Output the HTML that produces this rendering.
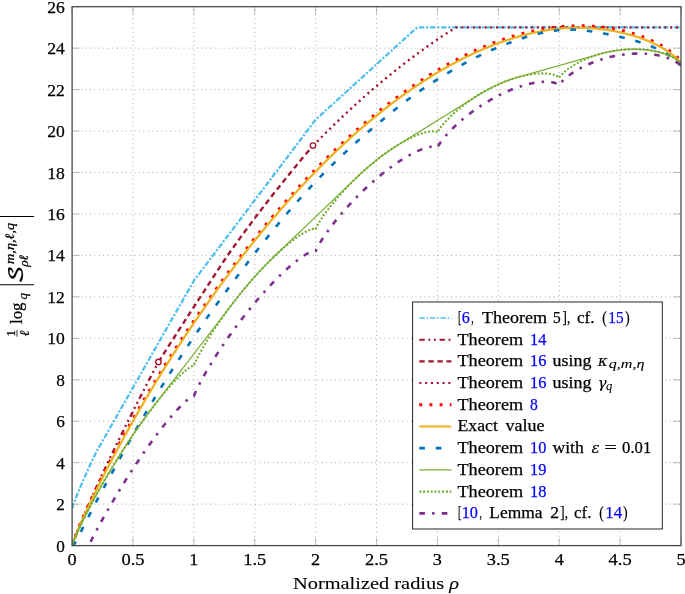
<!DOCTYPE html>
<html><head><meta charset="utf-8"><title>plot</title>
<style>html,body{margin:0;padding:0;background:#fff}svg{display:block}text{font-family:"Liberation Serif",serif;fill:#000;stroke:#000;stroke-width:0.25px}.b{fill:#0000ff;stroke:#0000ff}.i{font-style:italic;font-family:"Liberation Serif","DejaVu Serif",serif}</style></head><body>
<svg width="685" height="594" viewBox="0 0 685 594">
<rect width="685" height="594" fill="#fff"/>
<path d="M132.99 545.60 V6.70 M193.88 545.60 V6.70 M254.77 545.60 V6.70 M315.66 545.60 V6.70 M376.55 545.60 V6.70 M437.44 545.60 V6.70 M498.33 545.60 V6.70 M559.22 545.60 V6.70 M620.11 545.60 V6.70 M72.10 504.15 H681.00 M72.10 462.69 H681.00 M72.10 421.24 H681.00 M72.10 379.78 H681.00 M72.10 338.33 H681.00 M72.10 296.88 H681.00 M72.10 255.42 H681.00 M72.10 213.97 H681.00 M72.10 172.52 H681.00 M72.10 131.06 H681.00 M72.10 89.61 H681.00 M72.10 48.15 H681.00" stroke="#7a7a7a" stroke-width="0.8" stroke-dasharray="0.8 3.66" fill="none"/>
<path d="M72.10 545.60 v-7.70 M72.10 6.70 v7.70 M132.99 545.60 v-7.70 M132.99 6.70 v7.70 M193.88 545.60 v-7.70 M193.88 6.70 v7.70 M254.77 545.60 v-7.70 M254.77 6.70 v7.70 M315.66 545.60 v-7.70 M315.66 6.70 v7.70 M376.55 545.60 v-7.70 M376.55 6.70 v7.70 M437.44 545.60 v-7.70 M437.44 6.70 v7.70 M498.33 545.60 v-7.70 M498.33 6.70 v7.70 M559.22 545.60 v-7.70 M559.22 6.70 v7.70 M620.11 545.60 v-7.70 M620.11 6.70 v7.70 M681.00 545.60 v-7.70 M681.00 6.70 v7.70 M72.10 545.60 h7.70 M681.00 545.60 h-7.70 M72.10 504.15 h7.70 M681.00 504.15 h-7.70 M72.10 462.69 h7.70 M681.00 462.69 h-7.70 M72.10 421.24 h7.70 M681.00 421.24 h-7.70 M72.10 379.78 h7.70 M681.00 379.78 h-7.70 M72.10 338.33 h7.70 M681.00 338.33 h-7.70 M72.10 296.88 h7.70 M681.00 296.88 h-7.70 M72.10 255.42 h7.70 M681.00 255.42 h-7.70 M72.10 213.97 h7.70 M681.00 213.97 h-7.70 M72.10 172.52 h7.70 M681.00 172.52 h-7.70 M72.10 131.06 h7.70 M681.00 131.06 h-7.70 M72.10 89.61 h7.70 M681.00 89.61 h-7.70 M72.10 48.15 h7.70 M681.00 48.15 h-7.70 M72.10 6.70 h7.70 M681.00 6.70 h-7.70" stroke="#808080" stroke-width="0.5" fill="none"/>
<clipPath id="c"><rect x="72.10" y="6.70" width="608.90" height="538.90"/></clipPath>
<g clip-path="url(#c)" fill="none" stroke-linejoin="round">
<path d="M72.10 508.46 L72.71 506.58 L73.32 504.71 L73.93 503.04 L74.54 501.38 L75.14 499.79 L75.75 498.20 L76.36 496.67 L76.97 495.13 L77.58 493.63 L78.19 492.14 L78.80 490.67 L79.41 489.20 L80.02 487.76 L80.62 486.32 L81.23 484.90 L81.84 483.48 L82.45 482.08 L83.06 480.68 L83.67 479.30 L84.28 477.92 L84.89 476.55 L85.50 475.19 L86.10 473.83 L86.71 472.48 L87.32 471.14 L87.93 469.80 L88.54 468.48 L89.15 467.15 L89.76 465.83 L90.37 464.52 L90.98 463.22 L91.58 461.91 L92.19 460.62 L92.80 459.32 L93.41 458.04 L94.02 456.75 L94.63 455.48 L95.24 454.20 L95.85 452.93 L96.46 451.67 L97.06 450.60 L97.67 449.53 L98.28 448.46 L98.89 447.39 L99.50 446.32 L100.11 445.26 L100.72 444.19 L101.33 443.12 L101.94 442.05 L102.54 440.98 L103.15 439.91 L103.76 438.84 L104.37 437.78 L104.98 436.71 L105.59 435.64 L106.20 434.57 L106.81 433.50 L107.42 432.43 L108.03 431.37 L108.63 430.30 L109.24 429.23 L109.85 428.16 L110.46 427.09 L111.07 426.02 L111.68 424.95 L112.29 423.89 L112.90 422.82 L113.51 421.75 L114.11 420.68 L114.72 419.61 L115.33 418.54 L115.94 417.48 L116.55 416.41 L117.16 415.34 L117.77 414.27 L118.38 413.20 L118.99 412.13 L119.59 411.06 L120.20 410.00 L120.81 408.93 L121.42 407.86 L122.03 406.79 L122.64 405.72 L123.25 404.65 L123.86 403.59 L124.47 402.52 L125.07 401.45 L125.68 400.38 L126.29 399.31 L126.90 398.24 L127.51 397.17 L128.12 396.11 L128.73 395.04 L129.34 393.97 L129.95 392.90 L130.55 391.83 L131.16 390.76 L131.77 389.69 L132.38 388.63 L132.99 387.56 L133.60 386.49 L134.21 385.42 L134.82 384.35 L135.43 383.28 L136.03 382.22 L136.64 381.15 L137.25 380.08 L137.86 379.01 L138.47 377.94 L139.08 376.87 L139.69 375.80 L140.30 374.74 L140.91 373.67 L141.51 372.60 L142.12 371.53 L142.73 370.46 L143.34 369.39 L143.95 368.33 L144.56 367.26 L145.17 366.19 L145.78 365.12 L146.39 364.05 L146.99 362.98 L147.60 361.91 L148.21 360.85 L148.82 359.78 L149.43 358.71 L150.04 357.64 L150.65 356.57 L151.26 355.50 L151.87 354.44 L152.47 353.37 L153.08 352.30 L153.69 351.23 L154.30 350.16 L154.91 349.09 L155.52 348.02 L156.13 346.96 L156.74 345.89 L157.35 344.82 L157.95 343.75 L158.56 342.68 L159.17 341.61 L159.78 340.54 L160.39 339.48 L161.00 338.41 L161.61 337.34 L162.22 336.27 L162.83 335.20 L163.44 334.13 L164.04 333.07 L164.65 332.00 L165.26 330.93 L165.87 329.86 L166.48 328.79 L167.09 327.72 L167.70 326.65 L168.31 325.59 L168.92 324.52 L169.52 323.45 L170.13 322.38 L170.74 321.31 L171.35 320.24 L171.96 319.18 L172.57 318.11 L173.18 317.04 L173.79 315.97 L174.40 314.90 L175.00 313.83 L175.61 312.76 L176.22 311.70 L176.83 310.63 L177.44 309.56 L178.05 308.49 L178.66 307.42 L179.27 306.35 L179.88 305.28 L180.48 304.22 L181.09 303.15 L181.70 302.08 L182.31 301.01 L182.92 299.94 L183.53 298.87 L184.14 297.81 L184.75 296.74 L185.36 295.67 L185.96 294.60 L186.57 293.53 L187.18 292.46 L187.79 291.39 L188.40 290.33 L189.01 289.26 L189.62 288.19 L190.23 287.12 L190.84 286.05 L191.44 284.98 L192.05 283.92 L192.66 282.85 L193.27 281.78 L193.88 280.71 L194.49 279.90 L195.10 279.10 L195.71 278.29 L196.32 277.49 L196.92 276.68 L197.53 275.88 L198.14 275.07 L198.75 274.27 L199.36 273.46 L199.97 272.66 L200.58 271.85 L201.19 271.05 L201.80 270.24 L202.40 269.44 L203.01 268.63 L203.62 267.83 L204.23 267.02 L204.84 266.22 L205.45 265.41 L206.06 264.61 L206.67 263.80 L207.28 262.99 L207.88 262.19 L208.49 261.38 L209.10 260.58 L209.71 259.77 L210.32 258.97 L210.93 258.16 L211.54 257.36 L212.15 256.55 L212.76 255.75 L213.36 254.94 L213.97 254.14 L214.58 253.33 L215.19 252.53 L215.80 251.72 L216.41 250.92 L217.02 250.11 L217.63 249.31 L218.24 248.50 L218.84 247.70 L219.45 246.89 L220.06 246.08 L220.67 245.28 L221.28 244.47 L221.89 243.67 L222.50 242.86 L223.11 242.06 L223.72 241.25 L224.32 240.45 L224.93 239.64 L225.54 238.84 L226.15 238.03 L226.76 237.23 L227.37 236.42 L227.98 235.62 L228.59 234.81 L229.20 234.01 L229.81 233.20 L230.41 232.40 L231.02 231.59 L231.63 230.78 L232.24 229.98 L232.85 229.17 L233.46 228.37 L234.07 227.56 L234.68 226.76 L235.29 225.95 L235.89 225.15 L236.50 224.34 L237.11 223.54 L237.72 222.73 L238.33 221.93 L238.94 221.12 L239.55 220.32 L240.16 219.51 L240.77 218.71 L241.37 217.90 L241.98 217.10 L242.59 216.29 L243.20 215.49 L243.81 214.68 L244.42 213.87 L245.03 213.07 L245.64 212.26 L246.25 211.46 L246.85 210.65 L247.46 209.85 L248.07 209.04 L248.68 208.24 L249.29 207.43 L249.90 206.63 L250.51 205.82 L251.12 205.02 L251.73 204.21 L252.33 203.41 L252.94 202.60 L253.55 201.80 L254.16 200.99 L254.77 200.19 L255.38 199.38 L255.99 198.58 L256.60 197.77 L257.21 196.96 L257.81 196.16 L258.42 195.35 L259.03 194.55 L259.64 193.74 L260.25 192.94 L260.86 192.13 L261.47 191.33 L262.08 190.52 L262.69 189.72 L263.29 188.91 L263.90 188.11 L264.51 187.30 L265.12 186.50 L265.73 185.69 L266.34 184.89 L266.95 184.08 L267.56 183.28 L268.17 182.47 L268.77 181.67 L269.38 180.86 L269.99 180.05 L270.60 179.25 L271.21 178.44 L271.82 177.64 L272.43 176.83 L273.04 176.03 L273.65 175.22 L274.25 174.42 L274.86 173.61 L275.47 172.81 L276.08 172.00 L276.69 171.20 L277.30 170.39 L277.91 169.59 L278.52 168.78 L279.13 167.98 L279.73 167.17 L280.34 166.37 L280.95 165.56 L281.56 164.76 L282.17 163.95 L282.78 163.14 L283.39 162.34 L284.00 161.53 L284.61 160.73 L285.22 159.92 L285.82 159.12 L286.43 158.31 L287.04 157.51 L287.65 156.70 L288.26 155.90 L288.87 155.09 L289.48 154.29 L290.09 153.48 L290.70 152.68 L291.30 151.87 L291.91 151.07 L292.52 150.26 L293.13 149.46 L293.74 148.65 L294.35 147.85 L294.96 147.04 L295.57 146.23 L296.18 145.43 L296.78 144.62 L297.39 143.82 L298.00 143.01 L298.61 142.21 L299.22 141.40 L299.83 140.60 L300.44 139.79 L301.05 138.99 L301.66 138.18 L302.26 137.38 L302.87 136.57 L303.48 135.77 L304.09 134.96 L304.70 134.16 L305.31 133.35 L305.92 132.55 L306.53 131.74 L307.14 130.94 L307.74 130.13 L308.35 129.32 L308.96 128.52 L309.57 127.71 L310.18 126.91 L310.79 126.10 L311.40 125.30 L312.01 124.49 L312.62 123.69 L313.22 122.88 L313.83 122.08 L314.44 121.27 L315.05 120.47 L315.66 119.66 L316.27 119.11 L316.88 118.55 L317.49 118.00 L318.10 117.45 L318.70 116.89 L319.31 116.34 L319.92 115.79 L320.53 115.23 L321.14 114.68 L321.75 114.13 L322.36 113.57 L322.97 113.02 L323.58 112.46 L324.18 111.91 L324.79 111.36 L325.40 110.80 L326.01 110.25 L326.62 109.70 L327.23 109.14 L327.84 108.59 L328.45 108.04 L329.06 107.48 L329.66 106.93 L330.27 106.37 L330.88 105.82 L331.49 105.27 L332.10 104.71 L332.71 104.16 L333.32 103.61 L333.93 103.05 L334.54 102.50 L335.14 101.95 L335.75 101.39 L336.36 100.84 L336.97 100.28 L337.58 99.73 L338.19 99.18 L338.80 98.62 L339.41 98.07 L340.02 97.52 L340.62 96.96 L341.23 96.41 L341.84 95.86 L342.45 95.30 L343.06 94.75 L343.67 94.19 L344.28 93.64 L344.89 93.09 L345.50 92.53 L346.11 91.98 L346.71 91.43 L347.32 90.87 L347.93 90.32 L348.54 89.77 L349.15 89.21 L349.76 88.66 L350.37 88.10 L350.98 87.55 L351.59 87.00 L352.19 86.44 L352.80 85.89 L353.41 85.34 L354.02 84.78 L354.63 84.23 L355.24 83.68 L355.85 83.12 L356.46 82.57 L357.07 82.01 L357.67 81.46 L358.28 80.91 L358.89 80.35 L359.50 79.80 L360.11 79.25 L360.72 78.69 L361.33 78.14 L361.94 77.59 L362.55 77.03 L363.15 76.48 L363.76 75.92 L364.37 75.37 L364.98 74.82 L365.59 74.26 L366.20 73.71 L366.81 73.16 L367.42 72.60 L368.03 72.05 L368.63 71.50 L369.24 70.94 L369.85 70.39 L370.46 69.84 L371.07 69.28 L371.68 68.73 L372.29 68.17 L372.90 67.62 L373.51 67.07 L374.11 66.51 L374.72 65.96 L375.33 65.41 L375.94 64.85 L376.55 64.30 L377.16 63.75 L377.77 63.19 L378.38 62.64 L378.99 62.08 L379.59 61.53 L380.20 60.98 L380.81 60.42 L381.42 59.87 L382.03 59.32 L382.64 58.76 L383.25 58.21 L383.86 57.66 L384.47 57.10 L385.07 56.55 L385.68 55.99 L386.29 55.44 L386.90 54.89 L387.51 54.33 L388.12 53.78 L388.73 53.23 L389.34 52.67 L389.95 52.12 L390.55 51.57 L391.16 51.01 L391.77 50.46 L392.38 49.90 L392.99 49.35 L393.60 48.80 L394.21 48.24 L394.82 47.69 L395.43 47.14 L396.03 46.58 L396.64 46.03 L397.25 45.48 L397.86 44.92 L398.47 44.37 L399.08 43.81 L399.69 43.26 L400.30 42.71 L400.91 42.15 L401.51 41.60 L402.12 41.05 L402.73 40.49 L403.34 39.94 L403.95 39.39 L404.56 38.83 L405.17 38.28 L405.78 37.72 L406.39 37.17 L407.00 36.62 L407.60 36.06 L408.21 35.51 L408.82 34.96 L409.43 34.40 L410.04 33.85 L410.65 33.30 L411.26 32.74 L411.87 32.19 L412.48 31.63 L413.08 31.08 L413.69 30.53 L414.30 29.97 L414.91 29.42 L415.52 28.87 L416.13 28.31 L416.74 27.76 L417.35 27.43 L417.96 27.43 L418.56 27.43 L419.17 27.43 L419.78 27.43 L420.39 27.43 L421.00 27.43 L421.61 27.43 L422.22 27.43 L422.83 27.43 L423.44 27.43 L424.04 27.43 L424.65 27.43 L425.26 27.43 L425.87 27.43 L426.48 27.43 L427.09 27.43 L427.70 27.43 L428.31 27.43 L428.92 27.43 L429.52 27.43 L430.13 27.43 L430.74 27.43 L431.35 27.43 L431.96 27.43 L432.57 27.43 L433.18 27.43 L433.79 27.43 L434.40 27.43 L435.00 27.43 L435.61 27.43 L436.22 27.43 L436.83 27.43 L437.44 27.43 L438.05 27.43 L438.66 27.43 L439.27 27.43 L439.88 27.43 L440.48 27.43 L441.09 27.43 L441.70 27.43 L442.31 27.43 L442.92 27.43 L443.53 27.43 L444.14 27.43 L444.75 27.43 L445.36 27.43 L445.96 27.43 L446.57 27.43 L447.18 27.43 L447.79 27.43 L448.40 27.43 L449.01 27.43 L449.62 27.43 L450.23 27.43 L450.84 27.43 L451.44 27.43 L452.05 27.43 L452.66 27.43 L453.27 27.43 L453.88 27.43 L454.49 27.43 L455.10 27.43 L455.71 27.43 L456.32 27.43 L456.92 27.43 L457.53 27.43 L458.14 27.43 L458.75 27.43 L459.36 27.43 L459.97 27.43 L460.58 27.43 L461.19 27.43 L461.80 27.43 L462.40 27.43 L463.01 27.43 L463.62 27.43 L464.23 27.43 L464.84 27.43 L465.45 27.43 L466.06 27.43 L466.67 27.43 L467.28 27.43 L467.88 27.43 L468.49 27.43 L469.10 27.43 L469.71 27.43 L470.32 27.43 L470.93 27.43 L471.54 27.43 L472.15 27.43 L472.76 27.43 L473.37 27.43 L473.97 27.43 L474.58 27.43 L475.19 27.43 L475.80 27.43 L476.41 27.43 L477.02 27.43 L477.63 27.43 L478.24 27.43 L478.85 27.43 L479.45 27.43 L480.06 27.43 L480.67 27.43 L481.28 27.43 L481.89 27.43 L482.50 27.43 L483.11 27.43 L483.72 27.43 L484.33 27.43 L484.93 27.43 L485.54 27.43 L486.15 27.43 L486.76 27.43 L487.37 27.43 L487.98 27.43 L488.59 27.43 L489.20 27.43 L489.81 27.43 L490.41 27.43 L491.02 27.43 L491.63 27.43 L492.24 27.43 L492.85 27.43 L493.46 27.43 L494.07 27.43 L494.68 27.43 L495.29 27.43 L495.89 27.43 L496.50 27.43 L497.11 27.43 L497.72 27.43 L498.33 27.43 L498.94 27.43 L499.55 27.43 L500.16 27.43 L500.77 27.43 L501.37 27.43 L501.98 27.43 L502.59 27.43 L503.20 27.43 L503.81 27.43 L504.42 27.43 L505.03 27.43 L505.64 27.43 L506.25 27.43 L506.85 27.43 L507.46 27.43 L508.07 27.43 L508.68 27.43 L509.29 27.43 L509.90 27.43 L510.51 27.43 L511.12 27.43 L511.73 27.43 L512.33 27.43 L512.94 27.43 L513.55 27.43 L514.16 27.43 L514.77 27.43 L515.38 27.43 L515.99 27.43 L516.60 27.43 L517.21 27.43 L517.81 27.43 L518.42 27.43 L519.03 27.43 L519.64 27.43 L520.25 27.43 L520.86 27.43 L521.47 27.43 L522.08 27.43 L522.69 27.43 L523.29 27.43 L523.90 27.43 L524.51 27.43 L525.12 27.43 L525.73 27.43 L526.34 27.43 L526.95 27.43 L527.56 27.43 L528.17 27.43 L528.77 27.43 L529.38 27.43 L529.99 27.43 L530.60 27.43 L531.21 27.43 L531.82 27.43 L532.43 27.43 L533.04 27.43 L533.65 27.43 L534.26 27.43 L534.86 27.43 L535.47 27.43 L536.08 27.43 L536.69 27.43 L537.30 27.43 L537.91 27.43 L538.52 27.43 L539.13 27.43 L539.74 27.43 L540.34 27.43 L540.95 27.43 L541.56 27.43 L542.17 27.43 L542.78 27.43 L543.39 27.43 L544.00 27.43 L544.61 27.43 L545.22 27.43 L545.82 27.43 L546.43 27.43 L547.04 27.43 L547.65 27.43 L548.26 27.43 L548.87 27.43 L549.48 27.43 L550.09 27.43 L550.70 27.43 L551.30 27.43 L551.91 27.43 L552.52 27.43 L553.13 27.43 L553.74 27.43 L554.35 27.43 L554.96 27.43 L555.57 27.43 L556.18 27.43 L556.78 27.43 L557.39 27.43 L558.00 27.43 L558.61 27.43 L559.22 27.43 L559.83 27.43 L560.44 27.43 L561.05 27.43 L561.66 27.43 L562.26 27.43 L562.87 27.43 L563.48 27.43 L564.09 27.43 L564.70 27.43 L565.31 27.43 L565.92 27.43 L566.53 27.43 L567.14 27.43 L567.74 27.43 L568.35 27.43 L568.96 27.43 L569.57 27.43 L570.18 27.43 L570.79 27.43 L571.40 27.43 L572.01 27.43 L572.62 27.43 L573.22 27.43 L573.83 27.43 L574.44 27.43 L575.05 27.43 L575.66 27.43 L576.27 27.43 L576.88 27.43 L577.49 27.43 L578.10 27.43 L578.70 27.43 L579.31 27.43 L579.92 27.43 L580.53 27.43 L581.14 27.43 L581.75 27.43 L582.36 27.43 L582.97 27.43 L583.58 27.43 L584.18 27.43 L584.79 27.43 L585.40 27.43 L586.01 27.43 L586.62 27.43 L587.23 27.43 L587.84 27.43 L588.45 27.43 L589.06 27.43 L589.67 27.43 L590.27 27.43 L590.88 27.43 L591.49 27.43 L592.10 27.43 L592.71 27.43 L593.32 27.43 L593.93 27.43 L594.54 27.43 L595.15 27.43 L595.75 27.43 L596.36 27.43 L596.97 27.43 L597.58 27.43 L598.19 27.43 L598.80 27.43 L599.41 27.43 L600.02 27.43 L600.63 27.43 L601.23 27.43 L601.84 27.43 L602.45 27.43 L603.06 27.43 L603.67 27.43 L604.28 27.43 L604.89 27.43 L605.50 27.43 L606.11 27.43 L606.71 27.43 L607.32 27.43 L607.93 27.43 L608.54 27.43 L609.15 27.43 L609.76 27.43 L610.37 27.43 L610.98 27.43 L611.59 27.43 L612.19 27.43 L612.80 27.43 L613.41 27.43 L614.02 27.43 L614.63 27.43 L615.24 27.43 L615.85 27.43 L616.46 27.43 L617.07 27.43 L617.67 27.43 L618.28 27.43 L618.89 27.43 L619.50 27.43 L620.11 27.43 L620.72 27.43 L621.33 27.43 L621.94 27.43 L622.55 27.43 L623.15 27.43 L623.76 27.43 L624.37 27.43 L624.98 27.43 L625.59 27.43 L626.20 27.43 L626.81 27.43 L627.42 27.43 L628.03 27.43 L628.63 27.43 L629.24 27.43 L629.85 27.43 L630.46 27.43 L631.07 27.43 L631.68 27.43 L632.29 27.43 L632.90 27.43 L633.51 27.43 L634.11 27.43 L634.72 27.43 L635.33 27.43 L635.94 27.43 L636.55 27.43 L637.16 27.43 L637.77 27.43 L638.38 27.43 L638.99 27.43 L639.59 27.43 L640.20 27.43 L640.81 27.43 L641.42 27.43 L642.03 27.43 L642.64 27.43 L643.25 27.43 L643.86 27.43 L644.47 27.43 L645.07 27.43 L645.68 27.43 L646.29 27.43 L646.90 27.43 L647.51 27.43 L648.12 27.43 L648.73 27.43 L649.34 27.43 L649.95 27.43 L650.56 27.43 L651.16 27.43 L651.77 27.43 L652.38 27.43 L652.99 27.43 L653.60 27.43 L654.21 27.43 L654.82 27.43 L655.43 27.43 L656.04 27.43 L656.64 27.43 L657.25 27.43 L657.86 27.43 L658.47 27.43 L659.08 27.43 L659.69 27.43 L660.30 27.43 L660.91 27.43 L661.52 27.43 L662.12 27.43 L662.73 27.43 L663.34 27.43 L663.95 27.43 L664.56 27.43 L665.17 27.43 L665.78 27.43 L666.39 27.43 L667.00 27.43 L667.60 27.43 L668.21 27.43 L668.82 27.43 L669.43 27.43 L670.04 27.43 L670.65 27.43 L671.26 27.43 L671.87 27.43 L672.48 27.43 L673.08 27.43 L673.69 27.43 L674.30 27.43 L674.91 27.43 L675.52 27.43 L676.13 27.43 L676.74 27.43 L677.35 27.43 L677.96 27.43 L678.56 27.43 L679.17 27.43 L679.78 27.43 L680.39 27.43 L681.00 27.43" stroke="#4DBEEE" stroke-width="2.25" stroke-dasharray="5.4 1.8 2.1 1.8"/>
<path d="M72.10 545.60 L72.97 542.85 L73.84 540.37 L74.72 538.00 L75.59 535.71 L76.46 533.47 L77.33 531.25 L78.20 529.07 L79.08 526.94 L79.95 524.79 L80.82 522.68 L81.69 520.62 L82.57 518.55 L83.44 516.47 L84.31 514.41 L85.18 512.42 L86.05 510.42 L86.93 508.42 L87.80 506.41 L88.67 504.41 L89.54 502.41 L90.41 500.48 L91.29 498.55 L92.16 496.62 L93.03 494.68 L93.90 492.74 L94.78 490.81 L95.65 488.86 L96.52 486.92 L97.39 485.00 L98.26 483.11 L99.14 481.21 L100.01 479.33 L100.88 477.45 L101.75 475.58 L102.62 473.71 L103.50 471.84 L104.37 469.98 L105.24 468.13 L106.11 466.28 L106.99 464.44 L107.86 462.60 L108.73 460.77 L109.60 458.94 L110.47 457.11 L111.35 455.29 L112.22 453.48 L113.09 451.66 L113.96 449.85 L114.83 448.05 L115.71 446.25 L116.58 444.45 L117.45 442.66 L118.32 440.87 L119.20 439.09 L120.07 437.31 L120.94 435.53 L121.81 433.75 L122.68 431.98 L123.56 430.22 L124.43 428.45 L125.30 426.69 L126.17 424.93 L127.04 423.18 L127.92 421.43 L128.79 419.68 L129.66 417.94 L130.53 416.19 L131.41 414.46 L132.28 412.72 L133.15 410.99 L134.02 409.26 L134.89 407.53 L135.77 405.81 L136.64 404.09 L137.51 402.37 L138.38 400.66 L139.25 398.95 L140.13 397.24 L141.00 395.53 L141.87 393.83 L142.74 392.13 L143.62 390.43 L144.49 388.73 L145.36 387.04 L146.23 385.35 L147.10 383.66 L147.98 381.98 L148.85 380.30 L149.72 378.62 L150.59 376.94 L151.46 375.26 L152.34 373.59 L153.21 371.92 L154.08 370.26 L154.95 368.59 L155.83 366.93 L156.70 365.27 L157.57 363.61 L158.44 361.96" stroke="#A2142F" stroke-width="2.35" stroke-dasharray="5.4 3.6 2 3.6 2 3.6"/>
<path d="M158.44 362.02 L160.00 359.57 L161.56 357.12 L163.13 354.68 L164.69 352.23 L166.25 349.79 L167.81 347.35 L169.37 344.91 L170.93 342.47 L172.49 340.03 L174.05 337.59 L175.61 335.16 L177.17 332.72 L178.73 330.29 L180.30 327.86 L181.86 325.44 L183.42 323.02 L184.98 320.60 L186.54 318.18 L188.10 315.76 L189.66 313.35 L191.22 310.95 L192.78 308.54 L194.34 306.14 L195.91 303.74 L197.47 301.35 L199.03 298.96 L200.59 296.58 L202.15 294.20 L203.71 291.83 L205.27 289.46 L206.83 287.08 L208.39 284.69 L209.95 282.29 L211.52 279.87 L213.08 277.46 L214.64 275.04 L216.20 272.63 L217.76 270.22 L219.32 267.83 L220.88 265.45 L222.44 263.10 L224.00 260.77 L225.56 258.47 L227.13 256.20 L228.69 253.95 L230.25 251.72 L231.81 249.51 L233.37 247.31 L234.93 245.12 L236.49 242.95 L238.05 240.79 L239.61 238.64 L241.17 236.50 L242.74 234.37 L244.30 232.26 L245.86 230.15 L247.42 228.04 L248.98 225.95 L250.54 223.86 L252.10 221.78 L253.66 219.71 L255.22 217.64 L256.78 215.57 L258.35 213.51 L259.91 211.46 L261.47 209.41 L263.03 207.37 L264.59 205.35 L266.15 203.33 L267.71 201.31 L269.27 199.31 L270.83 197.31 L272.39 195.32 L273.96 193.34 L275.52 191.36 L277.08 189.39 L278.64 187.42 L280.20 185.46 L281.76 183.51 L283.32 181.56 L284.88 179.61 L286.44 177.67 L288.00 175.74 L289.57 173.81 L291.13 171.89 L292.69 169.97 L294.25 168.07 L295.81 166.16 L297.37 164.26 L298.93 162.37 L300.49 160.49 L302.05 158.61 L303.61 156.73 L305.18 154.87 L306.74 153.01 L308.30 151.15 L309.86 149.30 L311.42 147.46 L312.98 145.62" stroke="#A2142F" stroke-width="2.35" stroke-dasharray="5.4 3.7"/>
<path d="M312.98 145.83 L313.90 144.88 L314.83 143.94 L315.75 142.99 L316.67 142.05 L317.59 141.11 L318.51 140.18 L319.44 139.25 L320.36 138.31 L321.28 137.39 L322.20 136.46 L323.13 135.54 L324.05 134.61 L324.97 133.70 L325.89 132.78 L326.82 131.86 L327.74 130.95 L328.66 130.04 L329.58 129.14 L330.51 128.23 L331.43 127.33 L332.35 126.43 L333.27 125.53 L334.19 124.64 L335.12 123.74 L336.04 122.85 L336.96 121.96 L337.88 121.08 L338.81 120.19 L339.73 119.31 L340.65 118.43 L341.57 117.56 L342.50 116.68 L343.42 115.81 L344.34 114.94 L345.26 114.08 L346.19 113.21 L347.11 112.35 L348.03 111.49 L348.95 110.63 L349.87 109.78 L350.80 108.93 L351.72 108.08 L352.64 107.23 L353.56 106.38 L354.49 105.54 L355.41 104.70 L356.33 103.86 L357.25 103.03 L358.18 102.19 L359.10 101.36 L360.02 100.53 L360.94 99.71 L361.87 98.88 L362.79 98.06 L363.71 97.24 L364.63 96.42 L365.56 95.61 L366.48 94.80 L367.40 93.99 L368.32 93.18 L369.24 92.38 L370.17 91.57 L371.09 90.77 L372.01 89.98 L372.93 89.18 L373.86 88.39 L374.78 87.60 L375.70 86.81 L376.62 86.02 L377.55 85.24 L378.47 84.46 L379.39 83.68 L380.31 82.90 L381.24 82.13 L382.16 81.36 L383.08 80.59 L384.00 79.82 L384.92 79.06 L385.85 78.29 L386.77 77.53 L387.69 76.78 L388.61 76.02 L389.54 75.27 L390.46 74.52 L391.38 73.77 L392.30 73.02 L393.23 72.28 L394.15 71.54 L395.07 70.80 L395.99 70.07 L396.92 69.33 L397.84 68.60 L398.76 67.87 L399.68 67.15 L400.60 66.42 L401.53 65.70 L402.45 64.98 L403.37 64.26 L404.29 63.55 L405.22 62.84 L406.14 62.13 L407.06 61.42 L407.98 60.72 L408.91 60.01 L409.83 59.31 L410.75 58.61 L411.67 57.92 L412.60 57.23 L413.52 56.53 L414.44 55.85 L415.36 55.16 L416.28 54.48 L417.21 53.80 L418.13 53.12 L419.05 52.44 L419.97 51.77 L420.90 51.09 L421.82 50.42 L422.74 49.76 L423.66 49.09 L424.59 48.43 L425.51 47.77 L426.43 47.11 L427.35 46.46 L428.28 45.81 L429.20 45.16 L430.12 44.51 L431.04 43.86 L431.96 43.22 L432.89 42.58 L433.81 41.94 L434.73 41.30 L435.65 40.67 L436.58 40.04 L437.50 39.41 L438.42 38.78 L439.34 38.16 L440.27 37.54 L441.19 36.92 L442.11 36.30 L443.03 35.68 L443.96 35.07 L444.88 34.46 L445.80 33.85 L446.72 33.25 L447.64 32.65 L448.57 32.05 L449.49 31.45 L450.41 30.85 L451.33 30.26 L452.26 29.67 L453.18 29.08 L454.10 28.49 L455.02 27.91 L455.95 27.43 L456.87 27.43 L457.79 27.43 L458.71 27.43 L459.64 27.43 L460.56 27.43 L461.48 27.43 L462.40 27.43 L463.32 27.43 L464.25 27.43 L465.17 27.43 L466.09 27.43 L467.01 27.43 L467.94 27.43 L468.86 27.43 L469.78 27.43 L470.70 27.43 L471.63 27.43 L472.55 27.43 L473.47 27.43 L474.39 27.43 L475.32 27.43 L476.24 27.43 L477.16 27.43 L478.08 27.43 L479.00 27.43 L479.93 27.43 L480.85 27.43 L481.77 27.43 L482.69 27.43 L483.62 27.43 L484.54 27.43 L485.46 27.43 L486.38 27.43 L487.31 27.43 L488.23 27.43 L489.15 27.43 L490.07 27.43 L491.00 27.43 L491.92 27.43 L492.84 27.43 L493.76 27.43 L494.68 27.43 L495.61 27.43 L496.53 27.43 L497.45 27.43 L498.37 27.43 L499.30 27.43 L500.22 27.43 L501.14 27.43 L502.06 27.43 L502.99 27.43 L503.91 27.43 L504.83 27.43 L505.75 27.43 L506.68 27.43 L507.60 27.43 L508.52 27.43 L509.44 27.43 L510.36 27.43 L511.29 27.43 L512.21 27.43 L513.13 27.43 L514.05 27.43 L514.98 27.43 L515.90 27.43 L516.82 27.43 L517.74 27.43 L518.67 27.43 L519.59 27.43 L520.51 27.43 L521.43 27.43 L522.36 27.43 L523.28 27.43 L524.20 27.43 L525.12 27.43 L526.04 27.43 L526.97 27.43 L527.89 27.43 L528.81 27.43 L529.73 27.43 L530.66 27.43 L531.58 27.43 L532.50 27.43 L533.42 27.43 L534.35 27.43 L535.27 27.43 L536.19 27.43 L537.11 27.43 L538.04 27.43 L538.96 27.43 L539.88 27.43 L540.80 27.43 L541.72 27.43 L542.65 27.43 L543.57 27.43 L544.49 27.43 L545.41 27.43 L546.34 27.43 L547.26 27.43 L548.18 27.43 L549.10 27.43 L550.03 27.43 L550.95 27.43 L551.87 27.43 L552.79 27.43 L553.72 27.43 L554.64 27.43 L555.56 27.43 L556.48 27.43 L557.40 27.43 L558.33 27.43 L559.25 27.43 L560.17 27.43 L561.09 27.43 L562.02 27.43 L562.94 27.43 L563.86 27.43 L564.78 27.43 L565.71 27.43 L566.63 27.43 L567.55 27.43 L568.47 27.43 L569.40 27.43 L570.32 27.43 L571.24 27.43 L572.16 27.43 L573.08 27.43 L574.01 27.43 L574.93 27.43 L575.85 27.43 L576.77 27.43 L577.70 27.43 L578.62 27.43 L579.54 27.43 L580.46 27.43 L581.39 27.43 L582.31 27.43 L583.23 27.43 L584.15 27.43 L585.08 27.43 L586.00 27.43 L586.92 27.43 L587.84 27.43 L588.76 27.43 L589.69 27.43 L590.61 27.43 L591.53 27.43 L592.45 27.43 L593.38 27.43 L594.30 27.43 L595.22 27.43 L596.14 27.43 L597.07 27.43 L597.99 27.43 L598.91 27.43 L599.83 27.43 L600.76 27.43 L601.68 27.43 L602.60 27.43 L603.52 27.43 L604.44 27.43 L605.37 27.43 L606.29 27.43 L607.21 27.43 L608.13 27.43 L609.06 27.43 L609.98 27.43 L610.90 27.43 L611.82 27.43 L612.75 27.43 L613.67 27.43 L614.59 27.43 L615.51 27.43 L616.44 27.43 L617.36 27.43 L618.28 27.43 L619.20 27.43 L620.12 27.43 L621.05 27.43 L621.97 27.43 L622.89 27.43 L623.81 27.43 L624.74 27.43 L625.66 27.43 L626.58 27.43 L627.50 27.43 L628.43 27.43 L629.35 27.43 L630.27 27.43 L631.19 27.43 L632.12 27.43 L633.04 27.43 L633.96 27.43 L634.88 27.43 L635.80 27.43 L636.73 27.43 L637.65 27.43 L638.57 27.43 L639.49 27.43 L640.42 27.43 L641.34 27.43 L642.26 27.43 L643.18 27.43 L644.11 27.43 L645.03 27.43 L645.95 27.43 L646.87 27.43 L647.80 27.43 L648.72 27.43 L649.64 27.43 L650.56 27.43 L651.48 27.43 L652.41 27.43 L653.33 27.43 L654.25 27.43 L655.17 27.43 L656.10 27.43 L657.02 27.43 L657.94 27.43 L658.86 27.43 L659.79 27.43 L660.71 27.43 L661.63 27.43 L662.55 27.43 L663.48 27.43 L664.40 27.43 L665.32 27.43 L666.24 27.43 L667.16 27.43 L668.09 27.43 L669.01 27.43 L669.93 27.43 L670.85 27.43 L671.78 27.43 L672.70 27.43 L673.62 27.43 L674.54 27.43 L675.47 27.43 L676.39 27.43 L677.31 27.43 L678.23 27.43 L679.16 27.43 L680.08 27.43 L681.00 27.43" stroke="#A2142F" stroke-width="2.30" stroke-dasharray="2.1 3.7"/>
<path d="M72.10 545.60 L72.71 543.58 L73.32 541.76 L73.93 540.02 L74.54 538.33 L75.14 536.68 L75.75 535.05 L76.36 533.46 L76.97 531.89 L77.58 530.32 L78.19 528.79 L78.80 527.27 L79.41 525.76 L80.02 524.25 L80.62 522.76 L81.23 521.31 L81.84 519.87 L82.45 518.42 L83.06 516.98 L83.67 515.54 L84.28 514.11 L84.89 512.74 L85.50 511.37 L86.10 510.00 L86.71 508.63 L87.32 507.27 L87.93 505.92 L88.54 504.56 L89.15 503.22 L89.76 501.90 L90.37 500.63 L90.98 499.35 L91.58 498.08 L92.19 496.80 L92.80 495.53 L93.41 494.25 L94.02 492.98 L94.63 491.70 L95.24 490.43 L95.85 489.15 L96.46 487.88 L97.06 486.62 L97.67 485.38 L98.28 484.14 L98.89 482.90 L99.50 481.67 L100.11 480.45 L100.72 479.23 L101.33 478.01 L101.94 476.79 L102.54 475.58 L103.15 474.37 L103.76 473.17 L104.37 471.97 L104.98 470.77 L105.59 469.58 L106.20 468.39 L106.81 467.20 L107.42 466.02 L108.03 464.84 L108.63 463.66 L109.24 462.48 L109.85 461.31 L110.46 460.14 L111.07 458.98 L111.68 457.82 L112.29 456.66 L112.90 455.50 L113.51 454.35 L114.11 453.20 L114.72 452.05 L115.33 450.90 L115.94 449.76 L116.55 448.62 L117.16 447.48 L117.77 446.35 L118.38 445.22 L118.99 444.09 L119.59 442.96 L120.20 441.84 L120.81 440.72 L121.42 439.60 L122.03 438.48 L122.64 437.37 L123.25 436.25 L123.86 435.14 L124.47 434.04 L125.07 432.93 L125.68 431.83 L126.29 430.73 L126.90 429.63 L127.51 428.54 L128.12 427.45 L128.73 426.36 L129.34 425.27 L129.95 424.18 L130.55 423.10 L131.16 422.02 L131.77 420.94 L132.38 419.86 L132.99 418.79 L133.60 417.71 L134.21 416.64 L134.82 415.57 L135.43 414.51 L136.03 413.44 L136.64 412.38 L137.25 411.32 L137.86 410.26 L138.47 409.21 L139.08 408.15 L139.69 407.10 L140.30 406.05 L140.91 405.00 L141.51 403.96 L142.12 402.91 L142.73 401.87 L143.34 400.83 L143.95 399.79 L144.56 398.76 L145.17 397.72 L145.78 396.69 L146.39 395.66 L146.99 394.63 L147.60 393.61 L148.21 392.58 L148.82 391.56 L149.43 390.54 L150.04 389.52 L150.65 388.50 L151.26 387.49 L151.87 386.48 L152.47 385.46 L153.08 384.45 L153.69 383.45 L154.30 382.44 L154.91 381.44 L155.52 380.44 L156.13 379.43 L156.74 378.44 L157.35 377.44 L157.95 376.44 L158.56 375.45 L159.17 374.46 L159.78 373.47 L160.39 372.48 L161.00 371.50 L161.61 370.51 L162.22 369.53 L162.83 368.55 L163.44 367.57 L164.04 366.59 L164.65 365.61 L165.26 364.64 L165.87 363.67 L166.48 362.70 L167.09 361.73 L167.70 360.76 L168.31 359.80 L168.92 358.83 L169.52 357.87 L170.13 356.91 L170.74 355.95 L171.35 354.99 L171.96 354.04 L172.57 353.08 L173.18 352.13 L173.79 351.18 L174.40 350.23 L175.00 349.28 L175.61 348.34 L176.22 347.39 L176.83 346.45 L177.44 345.51 L178.05 344.57 L178.66 343.63 L179.27 342.70 L179.88 341.76 L180.48 340.83 L181.09 339.90 L181.70 338.97 L182.31 338.04 L182.92 337.11 L183.53 336.19 L184.14 335.27 L184.75 334.34 L185.36 333.42 L185.96 332.51 L186.57 331.59 L187.18 330.67 L187.79 329.76 L188.40 328.84 L189.01 327.94 L189.62 327.03 L190.23 326.12 L190.84 325.21 L191.44 324.31 L192.05 323.40 L192.66 322.50 L193.27 321.60 L193.88 320.70 L194.49 319.81 L195.10 318.91 L195.71 318.02 L196.32 317.12 L196.92 316.23 L197.53 315.34 L198.14 314.46 L198.75 313.57 L199.36 312.68 L199.97 311.80 L200.58 310.92 L201.19 310.04 L201.80 309.16 L202.40 308.28 L203.01 307.40 L203.62 306.53 L204.23 305.66 L204.84 304.79 L205.45 303.91 L206.06 303.05 L206.67 302.18 L207.28 301.31 L207.88 300.45 L208.49 299.59 L209.10 298.72 L209.71 297.86 L210.32 297.00 L210.93 296.15 L211.54 295.29 L212.15 294.44 L212.76 293.59 L213.36 292.73 L213.97 291.88 L214.58 291.04 L215.19 290.19 L215.80 289.34 L216.41 288.50 L217.02 287.66 L217.63 286.81 L218.24 285.98 L218.84 285.14 L219.45 284.30 L220.06 283.47 L220.67 282.63 L221.28 281.80 L221.89 280.97 L222.50 280.14 L223.11 279.31 L223.72 278.48 L224.32 277.66 L224.93 276.83 L225.54 276.01 L226.15 275.19 L226.76 274.37 L227.37 273.55 L227.98 272.73 L228.59 271.92 L229.20 271.10 L229.81 270.29 L230.41 269.48 L231.02 268.67 L231.63 267.86 L232.24 267.05 L232.85 266.24 L233.46 265.44 L234.07 264.64 L234.68 263.83 L235.29 263.03 L235.89 262.23 L236.50 261.44 L237.11 260.64 L237.72 259.85 L238.33 259.05 L238.94 258.26 L239.55 257.47 L240.16 256.68 L240.77 255.89 L241.37 255.10 L241.98 254.32 L242.59 253.53 L243.20 252.75 L243.81 251.97 L244.42 251.19 L245.03 250.41 L245.64 249.64 L246.25 248.86 L246.85 248.09 L247.46 247.31 L248.07 246.54 L248.68 245.77 L249.29 245.00 L249.90 244.23 L250.51 243.47 L251.12 242.70 L251.73 241.94 L252.33 241.18 L252.94 240.42 L253.55 239.66 L254.16 238.90 L254.77 238.14 L255.38 237.39 L255.99 236.63 L256.60 235.88 L257.21 235.13 L257.81 234.38 L258.42 233.63 L259.03 232.88 L259.64 232.13 L260.25 231.39 L260.86 230.65 L261.47 229.90 L262.08 229.17 L262.69 228.43 L263.29 227.69 L263.90 226.95 L264.51 226.22 L265.12 225.48 L265.73 224.75 L266.34 224.02 L266.95 223.29 L267.56 222.56 L268.17 221.83 L268.77 221.11 L269.38 220.38 L269.99 219.66 L270.60 218.94 L271.21 218.21 L271.82 217.50 L272.43 216.78 L273.04 216.06 L273.65 215.35 L274.25 214.63 L274.86 213.92 L275.47 213.21 L276.08 212.50 L276.69 211.79 L277.30 211.08 L277.91 210.37 L278.52 209.67 L279.13 208.97 L279.73 208.26 L280.34 207.56 L280.95 206.86 L281.56 206.17 L282.17 205.47 L282.78 204.77 L283.39 204.08 L284.00 203.39 L284.61 202.69 L285.22 202.00 L285.82 201.31 L286.43 200.63 L287.04 199.94 L287.65 199.26 L288.26 198.57 L288.87 197.89 L289.48 197.21 L290.09 196.53 L290.70 195.85 L291.30 195.17 L291.91 194.50 L292.52 193.82 L293.13 193.15 L293.74 192.48 L294.35 191.80 L294.96 191.14 L295.57 190.47 L296.18 189.80 L296.78 189.14 L297.39 188.47 L298.00 187.81 L298.61 187.15 L299.22 186.49 L299.83 185.83 L300.44 185.17 L301.05 184.51 L301.66 183.86 L302.26 183.20 L302.87 182.55 L303.48 181.90 L304.09 181.25 L304.70 180.60 L305.31 179.95 L305.92 179.31 L306.53 178.66 L307.14 178.02 L307.74 177.38 L308.35 176.74 L308.96 176.10 L309.57 175.46 L310.18 174.82 L310.79 174.19 L311.40 173.55 L312.01 172.92 L312.62 172.29 L313.22 171.66 L313.83 171.03 L314.44 170.40 L315.05 169.78 L315.66 169.15 L316.27 168.53 L316.88 167.90 L317.49 167.28 L318.10 166.66 L318.70 166.04 L319.31 165.43 L319.92 164.81 L320.53 164.20 L321.14 163.58 L321.75 162.97 L322.36 162.36 L322.97 161.75 L323.58 161.14 L324.18 160.53 L324.79 159.93 L325.40 159.32 L326.01 158.72 L326.62 158.12 L327.23 157.52 L327.84 156.92 L328.45 156.32 L329.06 155.72 L329.66 155.13 L330.27 154.53 L330.88 153.94 L331.49 153.35 L332.10 152.76 L332.71 152.17 L333.32 151.58 L333.93 151.00 L334.54 150.41 L335.14 149.83 L335.75 149.24 L336.36 148.66 L336.97 148.08 L337.58 147.50 L338.19 146.93 L338.80 146.35 L339.41 145.78 L340.02 145.20 L340.62 144.63 L341.23 144.06 L341.84 143.49 L342.45 142.92 L343.06 142.35 L343.67 141.79 L344.28 141.23 L344.89 140.66 L345.50 140.10 L346.11 139.54 L346.71 138.98 L347.32 138.42 L347.93 137.87 L348.54 137.31 L349.15 136.76 L349.76 136.20 L350.37 135.65 L350.98 135.10 L351.59 134.55 L352.19 134.01 L352.80 133.46 L353.41 132.91 L354.02 132.37 L354.63 131.83 L355.24 131.29 L355.85 130.75 L356.46 130.21 L357.07 129.67 L357.67 129.14 L358.28 128.60 L358.89 128.07 L359.50 127.54 L360.11 127.00 L360.72 126.47 L361.33 125.95 L361.94 125.42 L362.55 124.89 L363.15 124.37 L363.76 123.85 L364.37 123.32 L364.98 122.80 L365.59 122.29 L366.20 121.77 L366.81 121.25 L367.42 120.74 L368.03 120.22 L368.63 119.71 L369.24 119.20 L369.85 118.69 L370.46 118.18 L371.07 117.67 L371.68 117.17 L372.29 116.66 L372.90 116.16 L373.51 115.66 L374.11 115.15 L374.72 114.65 L375.33 114.16 L375.94 113.66 L376.55 113.16 L377.16 112.67 L377.77 112.18 L378.38 111.68 L378.99 111.19 L379.59 110.70 L380.20 110.22 L380.81 109.73 L381.42 109.24 L382.03 108.76 L382.64 108.28 L383.25 107.80 L383.86 107.32 L384.47 106.84 L385.07 106.36 L385.68 105.88 L386.29 105.41 L386.90 104.94 L387.51 104.46 L388.12 103.99 L388.73 103.52 L389.34 103.05 L389.95 102.59 L390.55 102.12 L391.16 101.66 L391.77 101.19 L392.38 100.73 L392.99 100.27 L393.60 99.81 L394.21 99.36 L394.82 98.90 L395.43 98.44 L396.03 97.99 L396.64 97.54 L397.25 97.09 L397.86 96.64 L398.47 96.19 L399.08 95.74 L399.69 95.29 L400.30 94.85 L400.91 94.41 L401.51 93.96 L402.12 93.52 L402.73 93.08 L403.34 92.65 L403.95 92.21 L404.56 91.77 L405.17 91.34 L405.78 90.91 L406.39 90.48 L407.00 90.05 L407.60 89.62 L408.21 89.19 L408.82 88.76 L409.43 88.34 L410.04 87.92 L410.65 87.49 L411.26 87.07 L411.87 86.65 L412.48 86.23 L413.08 85.82 L413.69 85.40 L414.30 84.99 L414.91 84.58 L415.52 84.17 L416.13 83.75 L416.74 83.35 L417.35 82.94 L417.96 82.53 L418.56 82.13 L419.17 81.72 L419.78 81.32 L420.39 80.92 L421.00 80.52 L421.61 80.12 L422.22 79.73 L422.83 79.33 L423.44 78.94 L424.04 78.54 L424.65 78.15 L425.26 77.76 L425.87 77.37 L426.48 76.99 L427.09 76.60 L427.70 76.22 L428.31 75.83 L428.92 75.45 L429.52 75.07 L430.13 74.69 L430.74 74.31 L431.35 73.94 L431.96 73.56 L432.57 73.19 L433.18 72.81 L433.79 72.44 L434.40 72.08 L435.00 71.71 L435.61 71.34 L436.22 70.97 L436.83 70.61 L437.44 70.25 L438.05 69.89 L438.66 69.52 L439.27 69.17 L439.88 68.81 L440.48 68.45 L441.09 68.10 L441.70 67.74 L442.31 67.39 L442.92 67.04 L443.53 66.69 L444.14 66.34 L444.75 66.00 L445.36 65.65 L445.96 65.31 L446.57 64.97 L447.18 64.63 L447.79 64.29 L448.40 63.95 L449.01 63.61 L449.62 63.27 L450.23 62.94 L450.84 62.61 L451.44 62.28 L452.05 61.95 L452.66 61.62 L453.27 61.29 L453.88 60.96 L454.49 60.64 L455.10 60.32 L455.71 60.00 L456.32 59.68 L456.92 59.36 L457.53 59.04 L458.14 58.72 L458.75 58.41 L459.36 58.10 L459.97 57.78 L460.58 57.47 L461.19 57.16 L461.80 56.86 L462.40 56.55 L463.01 56.24 L463.62 55.94 L464.23 55.64 L464.84 55.34 L465.45 55.04 L466.06 54.74 L466.67 54.45 L467.28 54.15 L467.88 53.86 L468.49 53.56 L469.10 53.27 L469.71 52.98 L470.32 52.70 L470.93 52.41 L471.54 52.12 L472.15 51.84 L472.76 51.56 L473.37 51.28 L473.97 51.00 L474.58 50.72 L475.19 50.44 L475.80 50.17 L476.41 49.90 L477.02 49.62 L477.63 49.35 L478.24 49.08 L478.85 48.81 L479.45 48.55 L480.06 48.28 L480.67 48.02 L481.28 47.76 L481.89 47.50 L482.50 47.24 L483.11 46.98 L483.72 46.72 L484.33 46.47 L484.93 46.22 L485.54 45.96 L486.15 45.71 L486.76 45.46 L487.37 45.22 L487.98 44.97 L488.59 44.73 L489.20 44.48 L489.81 44.24 L490.41 44.00 L491.02 43.76 L491.63 43.52 L492.24 43.29 L492.85 43.05 L493.46 42.82 L494.07 42.59 L494.68 42.36 L495.29 42.13 L495.89 41.90 L496.50 41.68 L497.11 41.46 L497.72 41.23 L498.33 41.01 L498.94 40.79 L499.55 40.57 L500.16 40.36 L500.77 40.14 L501.37 39.93 L501.98 39.72 L502.59 39.51 L503.20 39.30 L503.81 39.09 L504.42 38.88 L505.03 38.68 L505.64 38.48 L506.25 38.27 L506.85 38.08 L507.46 37.88 L508.07 37.68 L508.68 37.48 L509.29 37.29 L509.90 37.10 L510.51 36.91 L511.12 36.72 L511.73 36.53 L512.33 36.34 L512.94 36.16 L513.55 35.98 L514.16 35.79 L514.77 35.61 L515.38 35.44 L515.99 35.26 L516.60 35.08 L517.21 34.91 L517.81 34.74 L518.42 34.57 L519.03 34.40 L519.64 34.23 L520.25 34.06 L520.86 33.90 L521.47 33.74 L522.08 33.57 L522.69 33.42 L523.29 33.26 L523.90 33.10 L524.51 32.95 L525.12 32.79 L525.73 32.64 L526.34 32.49 L526.95 32.34 L527.56 32.19 L528.17 32.05 L528.77 31.90 L529.38 31.76 L529.99 31.62 L530.60 31.48 L531.21 31.35 L531.82 31.21 L532.43 31.07 L533.04 30.94 L533.65 30.81 L534.26 30.68 L534.86 30.55 L535.47 30.43 L536.08 30.30 L536.69 30.18 L537.30 30.06 L537.91 29.94 L538.52 29.82 L539.13 29.70 L539.74 29.59 L540.34 29.48 L540.95 29.36 L541.56 29.25 L542.17 29.15 L542.78 29.04 L543.39 28.94 L544.00 28.83 L544.61 28.73 L545.22 28.63 L545.82 28.53 L546.43 28.44 L547.04 28.34 L547.65 28.25 L548.26 28.16 L548.87 28.07 L549.48 27.98 L550.09 27.89 L550.70 27.81 L551.30 27.72 L551.91 27.64 L552.52 27.56 L553.13 27.48 L553.74 27.41 L554.35 27.33 L554.96 27.26 L555.57 27.19 L556.18 27.12 L556.78 27.05 L557.39 26.98 L558.00 26.92 L558.61 26.86 L559.22 26.80 L559.83 26.74 L560.44 26.68 L561.05 26.62 L561.66 26.57 L562.26 26.52 L562.87 26.47 L563.48 26.42 L564.09 26.37 L564.70 26.33 L565.31 26.28 L565.92 26.24 L566.53 26.20 L567.14 26.16 L567.74 26.12 L568.35 26.09 L568.96 26.06 L569.57 26.03 L570.18 26.00 L570.79 25.97 L571.40 25.94 L572.01 25.92 L572.62 25.90 L573.22 25.88 L573.83 25.86 L574.44 25.84 L575.05 25.82 L575.66 25.81 L576.27 25.80 L576.88 25.79 L577.49 25.78 L578.10 25.78 L578.70 25.77 L579.31 25.77 L579.92 25.77 L580.53 25.77 L581.14 25.77 L581.75 25.78 L582.36 25.79 L582.97 25.79 L583.58 25.81 L584.18 25.82 L584.79 25.83 L585.40 25.85 L586.01 25.87 L586.62 25.89 L587.23 25.91 L587.84 25.93 L588.45 25.96 L589.06 25.98 L589.67 26.01 L590.27 26.04 L590.88 26.08 L591.49 26.11 L592.10 26.15 L592.71 26.19 L593.32 26.23 L593.93 26.27 L594.54 26.32 L595.15 26.36 L595.75 26.41 L596.36 26.46 L596.97 26.52 L597.58 26.57 L598.19 26.63 L598.80 26.68 L599.41 26.74 L600.02 26.81 L600.63 26.87 L601.23 26.94 L601.84 27.01 L602.45 27.08 L603.06 27.15 L603.67 27.22 L604.28 27.30 L604.89 27.38 L605.50 27.46 L606.11 27.54 L606.71 27.63 L607.32 27.71 L607.93 27.80 L608.54 27.89 L609.15 27.99 L609.76 28.08 L610.37 28.18 L610.98 28.28 L611.59 28.38 L612.19 28.48 L612.80 28.59 L613.41 28.70 L614.02 28.81 L614.63 28.92 L615.24 29.04 L615.85 29.15 L616.46 29.27 L617.07 29.39 L617.67 29.52 L618.28 29.64 L618.89 29.77 L619.50 29.90 L620.11 30.03 L620.72 30.17 L621.33 30.30 L621.94 30.44 L622.55 30.58 L623.15 30.73 L623.76 30.88 L624.37 31.02 L624.98 31.18 L625.59 31.33 L626.20 31.49 L626.81 31.64 L627.42 31.81 L628.03 31.97 L628.63 32.13 L629.24 32.30 L629.85 32.47 L630.46 32.65 L631.07 32.82 L631.68 33.00 L632.29 33.18 L632.90 33.37 L633.51 33.55 L634.11 33.74 L634.72 33.93 L635.33 34.13 L635.94 34.33 L636.55 34.53 L637.16 34.73 L637.77 34.94 L638.38 35.14 L638.99 35.35 L639.59 35.57 L640.20 35.79 L640.81 36.01 L641.42 36.23 L642.03 36.46 L642.64 36.68 L643.25 36.92 L643.86 37.15 L644.47 37.39 L645.07 37.63 L645.68 37.88 L646.29 38.13 L646.90 38.38 L647.51 38.63 L648.12 38.89 L648.73 39.15 L649.34 39.42 L649.95 39.69 L650.56 39.96 L651.16 40.24 L651.77 40.52 L652.38 40.80 L652.99 41.09 L653.60 41.38 L654.21 41.67 L654.82 41.97 L655.43 42.28 L656.04 42.59 L656.64 42.90 L657.25 43.22 L657.86 43.54 L658.47 43.86 L659.08 44.19 L659.69 44.53 L660.30 44.87 L660.91 45.21 L661.52 45.56 L662.12 45.92 L662.73 46.28 L663.34 46.65 L663.95 47.02 L664.56 47.40 L665.17 47.78 L665.78 48.18 L666.39 48.57 L667.00 48.98 L667.60 49.39 L668.21 49.81 L668.82 50.24 L669.43 50.67 L670.04 51.12 L670.65 51.57 L671.26 52.03 L671.87 52.50 L672.48 52.98 L673.08 53.48 L673.69 53.98 L674.30 54.50 L674.91 55.04 L675.52 55.59 L676.13 56.15 L676.74 56.74 L677.35 57.34 L677.96 57.98 L678.56 58.64 L679.17 59.34 L679.78 60.10 L680.39 60.93 L681.00 61.97" stroke="#FF0000" stroke-width="2.90" stroke-dasharray="2.9 7.25"/>
<path d="M72.10 545.60 L72.71 543.66 L73.32 541.91 L73.93 540.26 L74.54 538.65 L75.14 537.09 L75.75 535.54 L76.36 534.03 L76.97 532.55 L77.58 531.06 L78.19 529.61 L78.80 528.18 L79.41 526.75 L80.02 525.32 L80.62 523.92 L81.23 522.54 L81.84 521.17 L82.45 519.80 L83.06 518.43 L83.67 517.06 L84.28 515.70 L84.89 514.38 L85.50 513.07 L86.10 511.75 L86.71 510.44 L87.32 509.12 L87.93 507.81 L88.54 506.49 L89.15 505.17 L89.76 503.88 L90.37 502.62 L90.98 501.36 L91.58 500.10 L92.19 498.84 L92.80 497.58 L93.41 496.31 L94.02 495.05 L94.63 493.78 L95.24 492.52 L95.85 491.25 L96.46 489.98 L97.06 488.73 L97.67 487.49 L98.28 486.26 L98.89 485.03 L99.50 483.81 L100.11 482.58 L100.72 481.37 L101.33 480.15 L101.94 478.95 L102.54 477.74 L103.15 476.54 L103.76 475.34 L104.37 474.14 L104.98 472.95 L105.59 471.76 L106.20 470.58 L106.81 469.40 L107.42 468.22 L108.03 467.04 L108.63 465.87 L109.24 464.70 L109.85 463.53 L110.46 462.37 L111.07 461.21 L111.68 460.05 L112.29 458.89 L112.90 457.74 L113.51 456.59 L114.11 455.44 L114.72 454.30 L115.33 453.16 L115.94 452.02 L116.55 450.88 L117.16 449.75 L117.77 448.62 L118.38 447.49 L118.99 446.36 L119.59 445.24 L120.20 444.12 L120.81 443.00 L121.42 441.88 L122.03 440.77 L122.64 439.66 L123.25 438.55 L123.86 437.44 L124.47 436.34 L125.07 435.24 L125.68 434.14 L126.29 433.04 L126.90 431.94 L127.51 430.85 L128.12 429.76 L128.73 428.67 L129.34 427.58 L129.95 426.50 L130.55 425.42 L131.16 424.34 L131.77 423.26 L132.38 422.19 L132.99 421.11 L133.60 420.04 L134.21 418.97 L134.82 417.90 L135.43 416.84 L136.03 415.78 L136.64 414.72 L137.25 413.66 L137.86 412.60 L138.47 411.54 L139.08 410.49 L139.69 409.44 L140.30 408.39 L140.91 407.35 L141.51 406.30 L142.12 405.26 L142.73 404.22 L143.34 403.18 L143.95 402.14 L144.56 401.11 L145.17 400.07 L145.78 399.04 L146.39 398.01 L146.99 396.99 L147.60 395.96 L148.21 394.94 L148.82 393.92 L149.43 392.90 L150.04 391.88 L150.65 390.86 L151.26 389.85 L151.87 388.83 L152.47 387.82 L153.08 386.82 L153.69 385.81 L154.30 384.80 L154.91 383.80 L155.52 382.80 L156.13 381.80 L156.74 380.80 L157.35 379.81 L157.95 378.81 L158.56 377.82 L159.17 376.83 L159.78 375.84 L160.39 374.85 L161.00 373.87 L161.61 372.88 L162.22 371.90 L162.83 370.92 L163.44 369.94 L164.04 368.96 L164.65 367.99 L165.26 367.01 L165.87 366.04 L166.48 365.07 L167.09 364.10 L167.70 363.14 L168.31 362.17 L168.92 361.21 L169.52 360.24 L170.13 359.29 L170.74 358.33 L171.35 357.37 L171.96 356.41 L172.57 355.46 L173.18 354.51 L173.79 353.56 L174.40 352.61 L175.00 351.66 L175.61 350.72 L176.22 349.77 L176.83 348.83 L177.44 347.89 L178.05 346.95 L178.66 346.01 L179.27 345.08 L179.88 344.14 L180.48 343.21 L181.09 342.28 L181.70 341.35 L182.31 340.42 L182.92 339.50 L183.53 338.57 L184.14 337.65 L184.75 336.73 L185.36 335.81 L185.96 334.89 L186.57 333.97 L187.18 333.06 L187.79 332.14 L188.40 331.23 L189.01 330.32 L189.62 329.41 L190.23 328.50 L190.84 327.60 L191.44 326.69 L192.05 325.79 L192.66 324.89 L193.27 323.98 L193.88 323.09 L194.49 322.19 L195.10 321.29 L195.71 320.40 L196.32 319.51 L196.92 318.62 L197.53 317.73 L198.14 316.84 L198.75 315.95 L199.36 315.07 L199.97 314.18 L200.58 313.30 L201.19 312.42 L201.80 311.54 L202.40 310.66 L203.01 309.79 L203.62 308.91 L204.23 308.04 L204.84 307.17 L205.45 306.30 L206.06 305.43 L206.67 304.56 L207.28 303.70 L207.88 302.83 L208.49 301.97 L209.10 301.11 L209.71 300.25 L210.32 299.39 L210.93 298.53 L211.54 297.68 L212.15 296.82 L212.76 295.97 L213.36 295.12 L213.97 294.27 L214.58 293.42 L215.19 292.57 L215.80 291.73 L216.41 290.88 L217.02 290.04 L217.63 289.20 L218.24 288.36 L218.84 287.52 L219.45 286.68 L220.06 285.85 L220.67 285.01 L221.28 284.18 L221.89 283.35 L222.50 282.52 L223.11 281.69 L223.72 280.87 L224.32 280.04 L224.93 279.21 L225.54 278.39 L226.15 277.57 L226.76 276.75 L227.37 275.93 L227.98 275.11 L228.59 274.30 L229.20 273.49 L229.81 272.67 L230.41 271.86 L231.02 271.05 L231.63 270.24 L232.24 269.43 L232.85 268.63 L233.46 267.82 L234.07 267.02 L234.68 266.22 L235.29 265.42 L235.89 264.62 L236.50 263.82 L237.11 263.02 L237.72 262.23 L238.33 261.44 L238.94 260.64 L239.55 259.85 L240.16 259.06 L240.77 258.27 L241.37 257.49 L241.98 256.70 L242.59 255.92 L243.20 255.14 L243.81 254.36 L244.42 253.57 L245.03 252.80 L245.64 252.02 L246.25 251.24 L246.85 250.47 L247.46 249.70 L248.07 248.92 L248.68 248.15 L249.29 247.39 L249.90 246.62 L250.51 245.85 L251.12 245.09 L251.73 244.32 L252.33 243.56 L252.94 242.80 L253.55 242.04 L254.16 241.28 L254.77 240.53 L255.38 239.77 L255.99 239.01 L256.60 238.26 L257.21 237.51 L257.81 236.76 L258.42 236.01 L259.03 235.27 L259.64 234.52 L260.25 233.77 L260.86 233.03 L261.47 232.29 L262.08 231.55 L262.69 230.81 L263.29 230.07 L263.90 229.33 L264.51 228.60 L265.12 227.86 L265.73 227.13 L266.34 226.40 L266.95 225.67 L267.56 224.94 L268.17 224.22 L268.77 223.49 L269.38 222.76 L269.99 222.04 L270.60 221.32 L271.21 220.60 L271.82 219.88 L272.43 219.16 L273.04 218.44 L273.65 217.73 L274.25 217.01 L274.86 216.30 L275.47 215.59 L276.08 214.88 L276.69 214.17 L277.30 213.46 L277.91 212.76 L278.52 212.05 L279.13 211.35 L279.73 210.65 L280.34 209.95 L280.95 209.25 L281.56 208.55 L282.17 207.85 L282.78 207.16 L283.39 206.46 L284.00 205.77 L284.61 205.08 L285.22 204.39 L285.82 203.70 L286.43 203.01 L287.04 202.32 L287.65 201.64 L288.26 200.95 L288.87 200.27 L289.48 199.59 L290.09 198.91 L290.70 198.23 L291.30 197.56 L291.91 196.88 L292.52 196.20 L293.13 195.53 L293.74 194.86 L294.35 194.19 L294.96 193.52 L295.57 192.85 L296.18 192.18 L296.78 191.52 L297.39 190.85 L298.00 190.19 L298.61 189.53 L299.22 188.87 L299.83 188.21 L300.44 187.55 L301.05 186.90 L301.66 186.24 L302.26 185.59 L302.87 184.94 L303.48 184.28 L304.09 183.63 L304.70 182.99 L305.31 182.34 L305.92 181.69 L306.53 181.05 L307.14 180.40 L307.74 179.76 L308.35 179.12 L308.96 178.48 L309.57 177.84 L310.18 177.21 L310.79 176.57 L311.40 175.94 L312.01 175.30 L312.62 174.67 L313.22 174.04 L313.83 173.41 L314.44 172.79 L315.05 172.16 L315.66 171.53 L316.27 170.91 L316.88 170.29 L317.49 169.66 L318.10 169.05 L318.70 168.43 L319.31 167.81 L319.92 167.19 L320.53 166.58 L321.14 165.96 L321.75 165.35 L322.36 164.74 L322.97 164.13 L323.58 163.52 L324.18 162.92 L324.79 162.31 L325.40 161.71 L326.01 161.10 L326.62 160.50 L327.23 159.90 L327.84 159.30 L328.45 158.70 L329.06 158.11 L329.66 157.51 L330.27 156.92 L330.88 156.32 L331.49 155.73 L332.10 155.14 L332.71 154.55 L333.32 153.97 L333.93 153.38 L334.54 152.79 L335.14 152.21 L335.75 151.63 L336.36 151.05 L336.97 150.47 L337.58 149.89 L338.19 149.31 L338.80 148.73 L339.41 148.16 L340.02 147.59 L340.62 147.01 L341.23 146.44 L341.84 145.87 L342.45 145.31 L343.06 144.74 L343.67 144.17 L344.28 143.61 L344.89 143.04 L345.50 142.48 L346.11 141.92 L346.71 141.36 L347.32 140.81 L347.93 140.25 L348.54 139.69 L349.15 139.14 L349.76 138.59 L350.37 138.04 L350.98 137.48 L351.59 136.94 L352.19 136.39 L352.80 135.84 L353.41 135.30 L354.02 134.75 L354.63 134.21 L355.24 133.67 L355.85 133.13 L356.46 132.59 L357.07 132.05 L357.67 131.52 L358.28 130.98 L358.89 130.45 L359.50 129.92 L360.11 129.39 L360.72 128.86 L361.33 128.33 L361.94 127.80 L362.55 127.28 L363.15 126.75 L363.76 126.23 L364.37 125.71 L364.98 125.19 L365.59 124.67 L366.20 124.15 L366.81 123.63 L367.42 123.12 L368.03 122.60 L368.63 122.09 L369.24 121.58 L369.85 121.07 L370.46 120.56 L371.07 120.06 L371.68 119.55 L372.29 119.04 L372.90 118.54 L373.51 118.04 L374.11 117.54 L374.72 117.04 L375.33 116.54 L375.94 116.04 L376.55 115.55 L377.16 115.05 L377.77 114.56 L378.38 114.07 L378.99 113.58 L379.59 113.09 L380.20 112.60 L380.81 112.11 L381.42 111.63 L382.03 111.14 L382.64 110.66 L383.25 110.18 L383.86 109.70 L384.47 109.22 L385.07 108.74 L385.68 108.27 L386.29 107.79 L386.90 107.32 L387.51 106.84 L388.12 106.37 L388.73 105.90 L389.34 105.44 L389.95 104.97 L390.55 104.50 L391.16 104.04 L391.77 103.57 L392.38 103.11 L392.99 102.65 L393.60 102.19 L394.21 101.74 L394.82 101.28 L395.43 100.82 L396.03 100.37 L396.64 99.92 L397.25 99.46 L397.86 99.01 L398.47 98.57 L399.08 98.12 L399.69 97.67 L400.30 97.23 L400.91 96.78 L401.51 96.34 L402.12 95.90 L402.73 95.46 L403.34 95.02 L403.95 94.58 L404.56 94.15 L405.17 93.71 L405.78 93.28 L406.39 92.85 L407.00 92.42 L407.60 91.99 L408.21 91.56 L408.82 91.13 L409.43 90.71 L410.04 90.28 L410.65 89.86 L411.26 89.44 L411.87 89.02 L412.48 88.60 L413.08 88.18 L413.69 87.77 L414.30 87.35 L414.91 86.94 L415.52 86.53 L416.13 86.12 L416.74 85.71 L417.35 85.30 L417.96 84.89 L418.56 84.49 L419.17 84.08 L419.78 83.68 L420.39 83.28 L421.00 82.88 L421.61 82.48 L422.22 82.08 L422.83 81.69 L423.44 81.29 L424.04 80.90 L424.65 80.51 L425.26 80.12 L425.87 79.73 L426.48 79.34 L427.09 78.95 L427.70 78.57 L428.31 78.18 L428.92 77.80 L429.52 77.42 L430.13 77.04 L430.74 76.66 L431.35 76.28 L431.96 75.91 L432.57 75.53 L433.18 75.16 L433.79 74.79 L434.40 74.42 L435.00 74.05 L435.61 73.68 L436.22 73.31 L436.83 72.95 L437.44 72.58 L438.05 72.22 L438.66 71.86 L439.27 71.50 L439.88 71.14 L440.48 70.79 L441.09 70.43 L441.70 70.08 L442.31 69.72 L442.92 69.37 L443.53 69.02 L444.14 68.67 L444.75 68.33 L445.36 67.98 L445.96 67.63 L446.57 67.29 L447.18 66.95 L447.79 66.61 L448.40 66.27 L449.01 65.93 L449.62 65.60 L450.23 65.26 L450.84 64.93 L451.44 64.59 L452.05 64.26 L452.66 63.93 L453.27 63.61 L453.88 63.28 L454.49 62.95 L455.10 62.63 L455.71 62.31 L456.32 61.99 L456.92 61.67 L457.53 61.35 L458.14 61.03 L458.75 60.71 L459.36 60.40 L459.97 60.09 L460.58 59.78 L461.19 59.47 L461.80 59.16 L462.40 58.85 L463.01 58.54 L463.62 58.24 L464.23 57.94 L464.84 57.63 L465.45 57.33 L466.06 57.03 L466.67 56.74 L467.28 56.44 L467.88 56.15 L468.49 55.85 L469.10 55.56 L469.71 55.27 L470.32 54.98 L470.93 54.70 L471.54 54.41 L472.15 54.12 L472.76 53.84 L473.37 53.56 L473.97 53.28 L474.58 53.00 L475.19 52.72 L475.80 52.45 L476.41 52.17 L477.02 51.90 L477.63 51.62 L478.24 51.35 L478.85 51.08 L479.45 50.82 L480.06 50.55 L480.67 50.28 L481.28 50.02 L481.89 49.76 L482.50 49.49 L483.11 49.23 L483.72 48.97 L484.33 48.72 L484.93 48.46 L485.54 48.21 L486.15 47.95 L486.76 47.70 L487.37 47.45 L487.98 47.20 L488.59 46.96 L489.20 46.71 L489.81 46.46 L490.41 46.22 L491.02 45.98 L491.63 45.74 L492.24 45.50 L492.85 45.26 L493.46 45.03 L494.07 44.79 L494.68 44.56 L495.29 44.33 L495.89 44.09 L496.50 43.87 L497.11 43.64 L497.72 43.41 L498.33 43.19 L498.94 42.96 L499.55 42.74 L500.16 42.52 L500.77 42.30 L501.37 42.09 L501.98 41.87 L502.59 41.65 L503.20 41.44 L503.81 41.23 L504.42 41.02 L505.03 40.81 L505.64 40.60 L506.25 40.40 L506.85 40.20 L507.46 39.99 L508.07 39.79 L508.68 39.59 L509.29 39.39 L509.90 39.20 L510.51 39.00 L511.12 38.81 L511.73 38.62 L512.33 38.43 L512.94 38.24 L513.55 38.05 L514.16 37.86 L514.77 37.68 L515.38 37.50 L515.99 37.32 L516.60 37.14 L517.21 36.96 L517.81 36.78 L518.42 36.61 L519.03 36.43 L519.64 36.26 L520.25 36.09 L520.86 35.92 L521.47 35.76 L522.08 35.59 L522.69 35.43 L523.29 35.27 L523.90 35.10 L524.51 34.95 L525.12 34.79 L525.73 34.63 L526.34 34.48 L526.95 34.33 L527.56 34.18 L528.17 34.03 L528.77 33.88 L529.38 33.73 L529.99 33.59 L530.60 33.45 L531.21 33.30 L531.82 33.16 L532.43 33.03 L533.04 32.89 L533.65 32.76 L534.26 32.62 L534.86 32.49 L535.47 32.36 L536.08 32.24 L536.69 32.11 L537.30 31.98 L537.91 31.86 L538.52 31.74 L539.13 31.62 L539.74 31.50 L540.34 31.39 L540.95 31.27 L541.56 31.16 L542.17 31.05 L542.78 30.94 L543.39 30.83 L544.00 30.73 L544.61 30.62 L545.22 30.52 L545.82 30.42 L546.43 30.32 L547.04 30.23 L547.65 30.13 L548.26 30.04 L548.87 29.95 L549.48 29.86 L550.09 29.77 L550.70 29.68 L551.30 29.60 L551.91 29.51 L552.52 29.43 L553.13 29.35 L553.74 29.28 L554.35 29.20 L554.96 29.13 L555.57 29.06 L556.18 28.98 L556.78 28.92 L557.39 28.85 L558.00 28.79 L558.61 28.72 L559.22 28.66 L559.83 28.60 L560.44 28.55 L561.05 28.49 L561.66 28.44 L562.26 28.39 L562.87 28.34 L563.48 28.29 L564.09 28.24 L564.70 28.20 L565.31 28.16 L565.92 28.12 L566.53 28.08 L567.14 28.05 L567.74 28.01 L568.35 27.98 L568.96 27.95 L569.57 27.92 L570.18 27.90 L570.79 27.87 L571.40 27.85 L572.01 27.83 L572.62 27.81 L573.22 27.80 L573.83 27.78 L574.44 27.77 L575.05 27.76 L575.66 27.75 L576.27 27.74 L576.88 27.74 L577.49 27.74 L578.10 27.74 L578.70 27.74 L579.31 27.74 L579.92 27.75 L580.53 27.75 L581.14 27.76 L581.75 27.77 L582.36 27.79 L582.97 27.80 L583.58 27.82 L584.18 27.83 L584.79 27.85 L585.40 27.88 L586.01 27.90 L586.62 27.93 L587.23 27.95 L587.84 27.99 L588.45 28.02 L589.06 28.05 L589.67 28.09 L590.27 28.12 L590.88 28.16 L591.49 28.20 L592.10 28.25 L592.71 28.29 L593.32 28.34 L593.93 28.39 L594.54 28.44 L595.15 28.49 L595.75 28.55 L596.36 28.60 L596.97 28.66 L597.58 28.72 L598.19 28.78 L598.80 28.85 L599.41 28.91 L600.02 28.98 L600.63 29.05 L601.23 29.12 L601.84 29.20 L602.45 29.27 L603.06 29.35 L603.67 29.43 L604.28 29.51 L604.89 29.59 L605.50 29.68 L606.11 29.77 L606.71 29.86 L607.32 29.95 L607.93 30.04 L608.54 30.13 L609.15 30.23 L609.76 30.33 L610.37 30.43 L610.98 30.53 L611.59 30.64 L612.19 30.74 L612.80 30.85 L613.41 30.96 L614.02 31.08 L614.63 31.19 L615.24 31.31 L615.85 31.43 L616.46 31.55 L617.07 31.67 L617.67 31.79 L618.28 31.92 L618.89 32.05 L619.50 32.18 L620.11 32.31 L620.72 32.45 L621.33 32.58 L621.94 32.72 L622.55 32.86 L623.15 33.01 L623.76 33.15 L624.37 33.30 L624.98 33.45 L625.59 33.60 L626.20 33.76 L626.81 33.91 L627.42 34.07 L628.03 34.24 L628.63 34.40 L629.24 34.57 L629.85 34.73 L630.46 34.91 L631.07 35.08 L631.68 35.26 L632.29 35.44 L632.90 35.62 L633.51 35.80 L634.11 35.99 L634.72 36.17 L635.33 36.37 L635.94 36.56 L636.55 36.76 L637.16 36.95 L637.77 37.16 L638.38 37.36 L638.99 37.57 L639.59 37.78 L640.20 37.99 L640.81 38.21 L641.42 38.43 L642.03 38.65 L642.64 38.87 L643.25 39.10 L643.86 39.33 L644.47 39.56 L645.07 39.80 L645.68 40.04 L646.29 40.28 L646.90 40.53 L647.51 40.78 L648.12 41.03 L648.73 41.28 L649.34 41.54 L649.95 41.81 L650.56 42.07 L651.16 42.34 L651.77 42.61 L652.38 42.89 L652.99 43.17 L653.60 43.46 L654.21 43.75 L654.82 44.04 L655.43 44.33 L656.04 44.64 L656.64 44.94 L657.25 45.25 L657.86 45.56 L658.47 45.88 L659.08 46.20 L659.69 46.53 L660.30 46.86 L660.91 47.20 L661.52 47.54 L662.12 47.89 L662.73 48.24 L663.34 48.60 L663.95 48.96 L664.56 49.33 L665.17 49.71 L665.78 50.09 L666.39 50.48 L667.00 50.88 L667.60 51.28 L668.21 51.69 L668.82 52.11 L669.43 52.53 L670.04 52.97 L670.65 53.41 L671.26 53.86 L671.87 54.32 L672.48 54.79 L673.08 55.28 L673.69 55.77 L674.30 56.28 L674.91 56.80 L675.52 57.34 L676.13 57.90 L676.74 58.47 L677.35 59.07 L677.96 59.69 L678.56 60.34 L679.17 61.04 L679.78 61.78 L680.39 62.60 L681.00 63.63" stroke="#EDB120" stroke-width="2.20"/>
<path d="M72.10 545.60 L72.71 545.00 L73.32 544.66 L73.93 544.30 L74.54 543.73 L75.14 542.78 L75.75 541.59 L76.36 540.42 L76.97 539.25 L77.58 538.06 L78.19 536.90 L78.80 535.74 L79.41 534.56 L80.02 533.37 L80.62 532.19 L81.23 531.03 L81.84 529.85 L82.45 528.67 L83.06 527.47 L83.67 526.27 L84.28 525.06 L84.89 523.89 L85.50 522.72 L86.10 521.53 L86.71 520.34 L87.32 519.14 L87.93 517.93 L88.54 516.72 L89.15 515.50 L89.76 514.30 L90.37 513.13 L90.98 511.96 L91.58 510.79 L92.19 509.61 L92.80 508.43 L93.41 507.25 L94.02 506.07 L94.63 504.90 L95.24 503.72 L95.85 502.54 L96.46 501.36 L97.06 500.20 L97.67 499.05 L98.28 497.91 L98.89 496.77 L99.50 495.63 L100.11 494.50 L100.72 493.37 L101.33 492.24 L101.94 491.11 L102.54 489.99 L103.15 488.87 L103.76 487.75 L104.37 486.64 L104.98 485.52 L105.59 484.41 L106.20 483.30 L106.81 482.19 L107.42 481.08 L108.03 479.97 L108.63 478.87 L109.24 477.76 L109.85 476.66 L110.46 475.55 L111.07 474.45 L111.68 473.35 L112.29 472.25 L112.90 471.15 L113.51 470.04 L114.11 468.94 L114.72 467.84 L115.33 466.74 L115.94 465.64 L116.55 464.53 L117.16 463.43 L117.77 462.32 L118.38 461.22 L118.99 460.11 L119.59 459.01 L120.20 457.90 L120.81 456.79 L121.42 455.68 L122.03 454.56 L122.64 453.45 L123.25 452.34 L123.86 451.23 L124.47 450.13 L125.07 449.02 L125.68 447.92 L126.29 446.83 L126.90 445.73 L127.51 444.64 L128.12 443.55 L128.73 442.46 L129.34 441.37 L129.95 440.29 L130.55 439.20 L131.16 438.12 L131.77 437.04 L132.38 435.97 L132.99 434.90 L133.60 433.82 L134.21 432.75 L134.82 431.69 L135.43 430.62 L136.03 429.56 L136.64 428.50 L137.25 427.44 L137.86 426.38 L138.47 425.33 L139.08 424.28 L139.69 423.22 L140.30 422.18 L140.91 421.13 L141.51 420.08 L142.12 419.04 L142.73 418.00 L143.34 416.96 L143.95 415.92 L144.56 414.89 L145.17 413.86 L145.78 412.83 L146.39 411.80 L146.99 410.77 L147.60 409.74 L148.21 408.72 L148.82 407.70 L149.43 406.68 L150.04 405.66 L150.65 404.64 L151.26 403.63 L151.87 402.62 L152.47 401.61 L153.08 400.60 L153.69 399.59 L154.30 398.59 L154.91 397.58 L155.52 396.58 L156.13 395.58 L156.74 394.59 L157.35 393.59 L157.95 392.59 L158.56 391.60 L159.17 390.61 L159.78 389.62 L160.39 388.63 L161.00 387.65 L161.61 386.66 L162.22 385.68 L162.83 384.70 L163.44 383.72 L164.04 382.75 L164.65 381.77 L165.26 380.80 L165.87 379.83 L166.48 378.85 L167.09 377.89 L167.70 376.92 L168.31 375.95 L168.92 374.99 L169.52 374.03 L170.13 373.07 L170.74 372.11 L171.35 371.15 L171.96 370.20 L172.57 369.24 L173.18 368.29 L173.79 367.34 L174.40 366.39 L175.00 365.45 L175.61 364.50 L176.22 363.56 L176.83 362.61 L177.44 361.67 L178.05 360.74 L178.66 359.80 L179.27 358.86 L179.88 357.93 L180.48 356.99 L181.09 356.06 L181.70 355.13 L182.31 354.21 L182.92 353.28 L183.53 352.35 L184.14 351.43 L184.75 350.51 L185.36 349.59 L185.96 348.67 L186.57 347.75 L187.18 346.84 L187.79 345.93 L188.40 345.01 L189.01 344.10 L189.62 343.19 L190.23 342.28 L190.84 341.38 L191.44 340.47 L192.05 339.57 L192.66 338.67 L193.27 337.77 L193.88 336.87 L194.49 335.97 L195.10 335.08 L195.71 334.18 L196.32 333.29 L196.92 332.40 L197.53 331.51 L198.14 330.62 L198.75 329.74 L199.36 328.85 L199.97 327.97 L200.58 327.09 L201.19 326.20 L201.80 325.32 L202.40 324.45 L203.01 323.57 L203.62 322.70 L204.23 321.82 L204.84 320.95 L205.45 320.08 L206.06 319.21 L206.67 318.35 L207.28 317.48 L207.88 316.62 L208.49 315.75 L209.10 314.89 L209.71 314.03 L210.32 313.17 L210.93 312.32 L211.54 311.46 L212.15 310.60 L212.76 309.75 L213.36 308.90 L213.97 308.05 L214.58 307.20 L215.19 306.36 L215.80 305.51 L216.41 304.67 L217.02 303.82 L217.63 302.98 L218.24 302.14 L218.84 301.30 L219.45 300.47 L220.06 299.63 L220.67 298.80 L221.28 297.96 L221.89 297.13 L222.50 296.30 L223.11 295.47 L223.72 294.64 L224.32 293.81 L224.93 292.98 L225.54 292.15 L226.15 291.32 L226.76 290.50 L227.37 289.67 L227.98 288.85 L228.59 288.02 L229.20 287.20 L229.81 286.37 L230.41 285.55 L231.02 284.73 L231.63 283.91 L232.24 283.09 L232.85 282.27 L233.46 281.45 L234.07 280.63 L234.68 279.82 L235.29 279.00 L235.89 278.18 L236.50 277.37 L237.11 276.56 L237.72 275.74 L238.33 274.93 L238.94 274.12 L239.55 273.31 L240.16 272.50 L240.77 271.69 L241.37 270.89 L241.98 270.08 L242.59 269.27 L243.20 268.47 L243.81 267.67 L244.42 266.86 L245.03 266.06 L245.64 265.26 L246.25 264.46 L246.85 263.66 L247.46 262.86 L248.07 262.07 L248.68 261.27 L249.29 260.47 L249.90 259.68 L250.51 258.89 L251.12 258.10 L251.73 257.30 L252.33 256.51 L252.94 255.73 L253.55 254.94 L254.16 254.15 L254.77 253.37 L255.38 252.58 L255.99 251.80 L256.60 251.01 L257.21 250.23 L257.81 249.45 L258.42 248.67 L259.03 247.90 L259.64 247.12 L260.25 246.34 L260.86 245.57 L261.47 244.79 L262.08 244.02 L262.69 243.25 L263.29 242.48 L263.90 241.71 L264.51 240.95 L265.12 240.18 L265.73 239.41 L266.34 238.65 L266.95 237.89 L267.56 237.12 L268.17 236.37 L268.77 235.61 L269.38 234.85 L269.99 234.09 L270.60 233.34 L271.21 232.58 L271.82 231.83 L272.43 231.08 L273.04 230.33 L273.65 229.58 L274.25 228.83 L274.86 228.09 L275.47 227.34 L276.08 226.60 L276.69 225.86 L277.30 225.12 L277.91 224.38 L278.52 223.64 L279.13 222.90 L279.73 222.17 L280.34 221.43 L280.95 220.70 L281.56 219.97 L282.17 219.24 L282.78 218.51 L283.39 217.79 L284.00 217.06 L284.61 216.34 L285.22 215.62 L285.82 214.90 L286.43 214.18 L287.04 213.46 L287.65 212.75 L288.26 212.03 L288.87 211.32 L289.48 210.61 L290.09 209.90 L290.70 209.19 L291.30 208.48 L291.91 207.78 L292.52 207.07 L293.13 206.37 L293.74 205.67 L294.35 204.97 L294.96 204.27 L295.57 203.58 L296.18 202.88 L296.78 202.19 L297.39 201.50 L298.00 200.81 L298.61 200.12 L299.22 199.44 L299.83 198.75 L300.44 198.07 L301.05 197.39 L301.66 196.71 L302.26 196.04 L302.87 195.36 L303.48 194.69 L304.09 194.01 L304.70 193.34 L305.31 192.67 L305.92 192.01 L306.53 191.34 L307.14 190.68 L307.74 190.02 L308.35 189.36 L308.96 188.70 L309.57 188.04 L310.18 187.39 L310.79 186.74 L311.40 186.09 L312.01 185.44 L312.62 184.79 L313.22 184.15 L313.83 183.50 L314.44 182.86 L315.05 182.22 L315.66 181.59 L316.27 180.95 L316.88 180.32 L317.49 179.68 L318.10 179.05 L318.70 178.42 L319.31 177.79 L319.92 177.17 L320.53 176.54 L321.14 175.92 L321.75 175.30 L322.36 174.68 L322.97 174.06 L323.58 173.44 L324.18 172.82 L324.79 172.21 L325.40 171.60 L326.01 170.99 L326.62 170.37 L327.23 169.76 L327.84 169.16 L328.45 168.55 L329.06 167.95 L329.66 167.34 L330.27 166.74 L330.88 166.14 L331.49 165.54 L332.10 164.95 L332.71 164.35 L333.32 163.76 L333.93 163.16 L334.54 162.57 L335.14 161.98 L335.75 161.39 L336.36 160.80 L336.97 160.22 L337.58 159.63 L338.19 159.05 L338.80 158.46 L339.41 157.88 L340.02 157.30 L340.62 156.73 L341.23 156.15 L341.84 155.57 L342.45 155.00 L343.06 154.42 L343.67 153.85 L344.28 153.28 L344.89 152.71 L345.50 152.15 L346.11 151.58 L346.71 151.01 L347.32 150.45 L347.93 149.89 L348.54 149.32 L349.15 148.77 L349.76 148.21 L350.37 147.65 L350.98 147.09 L351.59 146.54 L352.19 145.98 L352.80 145.43 L353.41 144.88 L354.02 144.33 L354.63 143.78 L355.24 143.23 L355.85 142.68 L356.46 142.14 L357.07 141.59 L357.67 141.05 L358.28 140.51 L358.89 139.97 L359.50 139.43 L360.11 138.89 L360.72 138.35 L361.33 137.82 L361.94 137.28 L362.55 136.75 L363.15 136.21 L363.76 135.68 L364.37 135.15 L364.98 134.62 L365.59 134.09 L366.20 133.57 L366.81 133.04 L367.42 132.52 L368.03 131.99 L368.63 131.47 L369.24 130.95 L369.85 130.43 L370.46 129.91 L371.07 129.39 L371.68 128.87 L372.29 128.35 L372.90 127.84 L373.51 127.33 L374.11 126.81 L374.72 126.30 L375.33 125.79 L375.94 125.28 L376.55 124.77 L377.16 124.26 L377.77 123.75 L378.38 123.25 L378.99 122.74 L379.59 122.23 L380.20 121.72 L380.81 121.22 L381.42 120.71 L382.03 120.21 L382.64 119.70 L383.25 119.20 L383.86 118.69 L384.47 118.19 L385.07 117.69 L385.68 117.18 L386.29 116.68 L386.90 116.18 L387.51 115.68 L388.12 115.18 L388.73 114.69 L389.34 114.19 L389.95 113.69 L390.55 113.20 L391.16 112.70 L391.77 112.21 L392.38 111.71 L392.99 111.22 L393.60 110.73 L394.21 110.24 L394.82 109.75 L395.43 109.26 L396.03 108.78 L396.64 108.29 L397.25 107.81 L397.86 107.33 L398.47 106.85 L399.08 106.37 L399.69 105.89 L400.30 105.41 L400.91 104.93 L401.51 104.46 L402.12 103.99 L402.73 103.52 L403.34 103.05 L403.95 102.58 L404.56 102.11 L405.17 101.65 L405.78 101.18 L406.39 100.72 L407.00 100.26 L407.60 99.81 L408.21 99.35 L408.82 98.89 L409.43 98.44 L410.04 97.99 L410.65 97.54 L411.26 97.10 L411.87 96.65 L412.48 96.21 L413.08 95.77 L413.69 95.33 L414.30 94.89 L414.91 94.46 L415.52 94.02 L416.13 93.59 L416.74 93.16 L417.35 92.73 L417.96 92.30 L418.56 91.88 L419.17 91.46 L419.78 91.03 L420.39 90.61 L421.00 90.19 L421.61 89.78 L422.22 89.36 L422.83 88.94 L423.44 88.53 L424.04 88.12 L424.65 87.71 L425.26 87.30 L425.87 86.89 L426.48 86.48 L427.09 86.08 L427.70 85.67 L428.31 85.27 L428.92 84.87 L429.52 84.47 L430.13 84.07 L430.74 83.67 L431.35 83.27 L431.96 82.88 L432.57 82.49 L433.18 82.09 L433.79 81.70 L434.40 81.31 L435.00 80.92 L435.61 80.53 L436.22 80.14 L436.83 79.75 L437.44 79.37 L438.05 78.98 L438.66 78.60 L439.27 78.21 L439.88 77.83 L440.48 77.45 L441.09 77.07 L441.70 76.69 L442.31 76.32 L442.92 75.94 L443.53 75.57 L444.14 75.19 L444.75 74.82 L445.36 74.45 L445.96 74.08 L446.57 73.71 L447.18 73.34 L447.79 72.98 L448.40 72.61 L449.01 72.25 L449.62 71.88 L450.23 71.52 L450.84 71.16 L451.44 70.80 L452.05 70.44 L452.66 70.09 L453.27 69.73 L453.88 69.38 L454.49 69.03 L455.10 68.67 L455.71 68.32 L456.32 67.98 L456.92 67.63 L457.53 67.28 L458.14 66.94 L458.75 66.59 L459.36 66.25 L459.97 65.91 L460.58 65.57 L461.19 65.23 L461.80 64.89 L462.40 64.56 L463.01 64.22 L463.62 63.89 L464.23 63.56 L464.84 63.23 L465.45 62.90 L466.06 62.57 L466.67 62.24 L467.28 61.92 L467.88 61.59 L468.49 61.27 L469.10 60.95 L469.71 60.63 L470.32 60.31 L470.93 59.99 L471.54 59.68 L472.15 59.36 L472.76 59.05 L473.37 58.74 L473.97 58.43 L474.58 58.12 L475.19 57.81 L475.80 57.51 L476.41 57.20 L477.02 56.90 L477.63 56.60 L478.24 56.30 L478.85 56.00 L479.45 55.70 L480.06 55.41 L480.67 55.11 L481.28 54.82 L481.89 54.53 L482.50 54.24 L483.11 53.95 L483.72 53.66 L484.33 53.38 L484.93 53.09 L485.54 52.81 L486.15 52.53 L486.76 52.25 L487.37 51.97 L487.98 51.70 L488.59 51.42 L489.20 51.15 L489.81 50.87 L490.41 50.60 L491.02 50.33 L491.63 50.07 L492.24 49.80 L492.85 49.54 L493.46 49.28 L494.07 49.01 L494.68 48.75 L495.29 48.50 L495.89 48.24 L496.50 47.98 L497.11 47.73 L497.72 47.48 L498.33 47.23 L498.94 46.98 L499.55 46.73 L500.16 46.49 L500.77 46.24 L501.37 45.99 L501.98 45.75 L502.59 45.51 L503.20 45.27 L503.81 45.03 L504.42 44.78 L505.03 44.55 L505.64 44.31 L506.25 44.07 L506.85 43.84 L507.46 43.60 L508.07 43.37 L508.68 43.14 L509.29 42.91 L509.90 42.68 L510.51 42.45 L511.12 42.22 L511.73 42.00 L512.33 41.78 L512.94 41.55 L513.55 41.33 L514.16 41.11 L514.77 40.89 L515.38 40.68 L515.99 40.46 L516.60 40.25 L517.21 40.04 L517.81 39.82 L518.42 39.62 L519.03 39.41 L519.64 39.20 L520.25 39.00 L520.86 38.79 L521.47 38.59 L522.08 38.39 L522.69 38.19 L523.29 38.00 L523.90 37.80 L524.51 37.61 L525.12 37.42 L525.73 37.23 L526.34 37.04 L526.95 36.86 L527.56 36.67 L528.17 36.49 L528.77 36.31 L529.38 36.13 L529.99 35.95 L530.60 35.78 L531.21 35.61 L531.82 35.44 L532.43 35.27 L533.04 35.10 L533.65 34.94 L534.26 34.77 L534.86 34.61 L535.47 34.45 L536.08 34.30 L536.69 34.14 L537.30 33.99 L537.91 33.84 L538.52 33.69 L539.13 33.55 L539.74 33.40 L540.34 33.26 L540.95 33.12 L541.56 32.99 L542.17 32.85 L542.78 32.72 L543.39 32.59 L544.00 32.47 L544.61 32.34 L545.22 32.22 L545.82 32.10 L546.43 31.98 L547.04 31.87 L547.65 31.75 L548.26 31.64 L548.87 31.53 L549.48 31.43 L550.09 31.33 L550.70 31.23 L551.30 31.13 L551.91 31.04 L552.52 30.94 L553.13 30.85 L553.74 30.77 L554.35 30.68 L554.96 30.60 L555.57 30.53 L556.18 30.45 L556.78 30.38 L557.39 30.31 L558.00 30.24 L558.61 30.17 L559.22 30.11 L559.83 30.05 L560.44 30.00 L561.05 29.95 L561.66 29.90 L562.26 29.86 L562.87 29.82 L563.48 29.78 L564.09 29.75 L564.70 29.72 L565.31 29.70 L565.92 29.68 L566.53 29.66 L567.14 29.64 L567.74 29.63 L568.35 29.62 L568.96 29.62 L569.57 29.61 L570.18 29.61 L570.79 29.62 L571.40 29.63 L572.01 29.64 L572.62 29.65 L573.22 29.67 L573.83 29.69 L574.44 29.71 L575.05 29.73 L575.66 29.76 L576.27 29.79 L576.88 29.82 L577.49 29.86 L578.10 29.90 L578.70 29.94 L579.31 29.98 L579.92 30.03 L580.53 30.08 L581.14 30.13 L581.75 30.18 L582.36 30.24 L582.97 30.30 L583.58 30.36 L584.18 30.43 L584.79 30.49 L585.40 30.56 L586.01 30.63 L586.62 30.70 L587.23 30.77 L587.84 30.85 L588.45 30.93 L589.06 31.01 L589.67 31.09 L590.27 31.18 L590.88 31.26 L591.49 31.35 L592.10 31.44 L592.71 31.53 L593.32 31.62 L593.93 31.72 L594.54 31.81 L595.15 31.91 L595.75 32.01 L596.36 32.11 L596.97 32.22 L597.58 32.32 L598.19 32.42 L598.80 32.53 L599.41 32.64 L600.02 32.75 L600.63 32.86 L601.23 32.97 L601.84 33.08 L602.45 33.20 L603.06 33.31 L603.67 33.43 L604.28 33.55 L604.89 33.67 L605.50 33.79 L606.11 33.91 L606.71 34.03 L607.32 34.15 L607.93 34.28 L608.54 34.40 L609.15 34.52 L609.76 34.65 L610.37 34.78 L610.98 34.90 L611.59 35.03 L612.19 35.16 L612.80 35.29 L613.41 35.42 L614.02 35.55 L614.63 35.68 L615.24 35.81 L615.85 35.94 L616.46 36.07 L617.07 36.21 L617.67 36.34 L618.28 36.47 L618.89 36.61 L619.50 36.74 L620.11 36.87 L620.72 37.01 L621.33 37.14 L621.94 37.28 L622.55 37.42 L623.15 37.56 L623.76 37.70 L624.37 37.85 L624.98 38.00 L625.59 38.15 L626.20 38.30 L626.81 38.45 L627.42 38.60 L628.03 38.76 L628.63 38.92 L629.24 39.08 L629.85 39.24 L630.46 39.40 L631.07 39.57 L631.68 39.74 L632.29 39.91 L632.90 40.08 L633.51 40.25 L634.11 40.43 L634.72 40.60 L635.33 40.78 L635.94 40.97 L636.55 41.15 L637.16 41.34 L637.77 41.53 L638.38 41.72 L638.99 41.91 L639.59 42.11 L640.20 42.30 L640.81 42.50 L641.42 42.71 L642.03 42.91 L642.64 43.12 L643.25 43.33 L643.86 43.54 L644.47 43.75 L645.07 43.97 L645.68 44.19 L646.29 44.41 L646.90 44.64 L647.51 44.87 L648.12 45.10 L648.73 45.33 L649.34 45.57 L649.95 45.81 L650.56 46.05 L651.16 46.29 L651.77 46.54 L652.38 46.79 L652.99 47.05 L653.60 47.31 L654.21 47.57 L654.82 47.83 L655.43 48.10 L656.04 48.37 L656.64 48.65 L657.25 48.93 L657.86 49.21 L658.47 49.50 L659.08 49.79 L659.69 50.09 L660.30 50.38 L660.91 50.69 L661.52 51.00 L662.12 51.31 L662.73 51.63 L663.34 51.95 L663.95 52.28 L664.56 52.61 L665.17 52.95 L665.78 53.30 L666.39 53.65 L667.00 54.00 L667.60 54.37 L668.21 54.74 L668.82 55.11 L669.43 55.50 L670.04 55.89 L670.65 56.29 L671.26 56.70 L671.87 57.12 L672.48 57.55 L673.08 57.99 L673.69 58.44 L674.30 58.90 L674.91 59.38 L675.52 59.87 L676.13 60.37 L676.74 60.90 L677.35 61.45 L677.96 62.02 L678.56 62.62 L679.17 63.26 L679.78 63.96 L680.39 64.72 L681.00 65.70" stroke="#0072BD" stroke-width="2.60" stroke-dasharray="5.6 10.9"/>
<path d="M72.10 545.60 L72.71 543.76 L73.32 542.13 L73.93 540.57 L74.54 539.07 L75.14 537.61 L75.75 536.17 L76.36 534.77 L76.97 533.38 L77.58 532.02 L78.19 530.67 L78.80 529.34 L79.41 528.02 L80.02 526.71 L80.62 525.42 L81.23 524.14 L81.84 522.87 L82.45 521.61 L83.06 520.36 L83.67 519.12 L84.28 517.89 L84.89 516.66 L85.50 515.45 L86.10 514.24 L86.71 513.04 L87.32 511.84 L87.93 510.66 L88.54 509.48 L89.15 508.30 L89.76 507.14 L90.37 505.97 L90.98 504.82 L91.58 503.67 L92.19 502.52 L92.80 501.38 L93.41 500.25 L94.02 499.12 L94.63 498.00 L95.24 496.88 L95.85 495.76 L96.46 494.65 L97.06 493.55 L97.67 492.45 L98.28 491.35 L98.89 490.26 L99.50 489.18 L100.11 488.09 L100.72 487.02 L101.33 485.94 L101.94 484.87 L102.54 483.81 L103.15 482.75 L103.76 481.69 L104.37 480.63 L104.98 479.58 L105.59 478.54 L106.20 477.49 L106.81 476.46 L107.42 475.42 L108.03 474.39 L108.63 473.36 L109.24 472.34 L109.85 471.32 L110.46 470.30 L111.07 469.28 L111.68 468.27 L112.29 467.27 L112.90 466.26 L113.51 465.26 L114.11 464.27 L114.72 463.27 L115.33 462.28 L115.94 461.29 L116.55 460.31 L117.16 459.33 L117.77 458.35 L118.38 457.38 L118.99 456.41 L119.59 455.44 L120.20 454.47 L120.81 453.51 L121.42 452.55 L122.03 451.60 L122.64 450.64 L123.25 449.70 L123.86 448.75 L124.47 447.81 L125.07 446.87 L125.68 445.93 L126.29 444.99 L126.90 444.06 L127.51 443.14 L128.12 442.21 L128.73 441.29 L129.34 440.37 L129.95 439.45 L130.55 438.54 L131.16 437.63 L131.77 436.72 L132.38 435.82 L132.99 434.92 L133.60 434.02 L134.21 433.13 L134.82 432.23 L135.43 431.34 L136.03 430.46 L136.64 429.57 L137.25 428.69 L137.86 427.82 L138.47 426.94 L139.08 426.07 L139.69 425.20 L140.30 424.34 L140.91 423.48 L141.51 422.62 L142.12 421.76 L142.73 420.91 L143.34 420.06 L143.95 419.21 L144.56 418.37 L145.17 417.53 L145.78 416.69 L146.39 415.86 L146.99 415.03 L147.60 414.20 L148.21 413.37 L148.82 412.55 L149.43 411.73 L150.04 410.92 L150.65 410.11 L151.26 409.30 L151.87 408.49 L152.47 407.69 L153.08 406.89 L153.69 406.10 L154.30 405.30 L154.91 404.51 L155.52 403.72 L156.13 402.93 L156.74 402.14 L157.35 401.35 L157.95 400.56 L158.56 399.77 L159.17 398.97 L159.78 398.18 L160.39 397.39 L161.00 396.60 L161.61 395.81 L162.22 395.02 L162.83 394.23 L163.44 393.44 L164.04 392.64 L164.65 391.85 L165.26 391.06 L165.87 390.27 L166.48 389.48 L167.09 388.69 L167.70 387.90 L168.31 387.11 L168.92 386.31 L169.52 385.52 L170.13 384.73 L170.74 383.94 L171.35 383.15 L171.96 382.36 L172.57 381.57 L173.18 380.78 L173.79 379.98 L174.40 379.19 L175.00 378.40 L175.61 377.61 L176.22 376.82 L176.83 376.03 L177.44 375.24 L178.05 374.45 L178.66 373.65 L179.27 372.86 L179.88 372.07 L180.48 371.28 L181.09 370.49 L181.70 369.70 L182.31 368.91 L182.92 368.12 L183.53 367.32 L184.14 366.53 L184.75 365.74 L185.36 364.95 L185.96 364.16 L186.57 363.37 L187.18 362.58 L187.79 361.79 L188.40 360.99 L189.01 360.20 L189.62 359.41 L190.23 358.62 L190.84 357.83 L191.44 357.04 L192.05 356.25 L192.66 355.46 L193.27 354.66 L193.88 353.87 L194.49 353.08 L195.10 352.29 L195.71 351.50 L196.32 350.71 L196.92 349.92 L197.53 349.13 L198.14 348.33 L198.75 347.54 L199.36 346.75 L199.97 345.96 L200.58 345.17 L201.19 344.38 L201.80 343.59 L202.40 342.80 L203.01 342.00 L203.62 341.21 L204.23 340.42 L204.84 339.63 L205.45 338.84 L206.06 338.05 L206.67 337.26 L207.28 336.47 L207.88 335.67 L208.49 334.88 L209.10 334.09 L209.71 333.30 L210.32 332.51 L210.93 331.72 L211.54 330.93 L212.15 330.14 L212.76 329.34 L213.36 328.55 L213.97 327.76 L214.58 326.97 L215.19 326.18 L215.80 325.39 L216.41 324.60 L217.02 323.81 L217.63 323.01 L218.24 322.22 L218.84 321.43 L219.45 320.64 L220.06 319.85 L220.67 319.06 L221.28 318.27 L221.89 317.48 L222.50 316.68 L223.11 315.89 L223.72 315.10 L224.32 314.31 L224.93 313.52 L225.54 312.73 L226.15 311.94 L226.76 311.15 L227.37 310.35 L227.98 309.56 L228.59 308.77 L229.20 307.98 L229.81 307.19 L230.41 306.40 L231.02 305.61 L231.63 304.82 L232.24 304.02 L232.85 303.23 L233.46 302.44 L234.07 301.65 L234.68 300.86 L235.29 300.08 L235.89 299.30 L236.50 298.52 L237.11 297.75 L237.72 296.98 L238.33 296.21 L238.94 295.45 L239.55 294.69 L240.16 293.93 L240.77 293.17 L241.37 292.42 L241.98 291.67 L242.59 290.93 L243.20 290.19 L243.81 289.45 L244.42 288.71 L245.03 287.98 L245.64 287.25 L246.25 286.52 L246.85 285.80 L247.46 285.08 L248.07 284.36 L248.68 283.65 L249.29 282.94 L249.90 282.23 L250.51 281.52 L251.12 280.82 L251.73 280.12 L252.33 279.42 L252.94 278.73 L253.55 278.04 L254.16 277.35 L254.77 276.67 L255.38 275.99 L255.99 275.31 L256.60 274.63 L257.21 273.96 L257.81 273.29 L258.42 272.62 L259.03 271.96 L259.64 271.30 L260.25 270.64 L260.86 269.99 L261.47 269.34 L262.08 268.69 L262.69 268.04 L263.29 267.40 L263.90 266.76 L264.51 266.13 L265.12 265.49 L265.73 264.86 L266.34 264.24 L266.95 263.61 L267.56 262.99 L268.17 262.37 L268.77 261.76 L269.38 261.15 L269.99 260.54 L270.60 259.93 L271.21 259.33 L271.82 258.73 L272.43 258.14 L273.04 257.55 L273.65 256.96 L274.25 256.37 L274.86 255.79 L275.47 255.21 L276.08 254.62 L276.69 254.04 L277.30 253.46 L277.91 252.87 L278.52 252.29 L279.13 251.71 L279.73 251.13 L280.34 250.54 L280.95 249.96 L281.56 249.38 L282.17 248.79 L282.78 248.21 L283.39 247.63 L284.00 247.04 L284.61 246.46 L285.22 245.88 L285.82 245.30 L286.43 244.71 L287.04 244.13 L287.65 243.55 L288.26 242.96 L288.87 242.38 L289.48 241.80 L290.09 241.22 L290.70 240.63 L291.30 240.05 L291.91 239.47 L292.52 238.88 L293.13 238.30 L293.74 237.72 L294.35 237.13 L294.96 236.55 L295.57 235.97 L296.18 235.39 L296.78 234.80 L297.39 234.22 L298.00 233.64 L298.61 233.05 L299.22 232.47 L299.83 231.89 L300.44 231.31 L301.05 230.72 L301.66 230.14 L302.26 229.56 L302.87 228.97 L303.48 228.39 L304.09 227.81 L304.70 227.22 L305.31 226.64 L305.92 226.06 L306.53 225.48 L307.14 224.89 L307.74 224.31 L308.35 223.73 L308.96 223.14 L309.57 222.56 L310.18 221.98 L310.79 221.40 L311.40 220.81 L312.01 220.23 L312.62 219.65 L313.22 219.06 L313.83 218.48 L314.44 217.90 L315.05 217.31 L315.66 216.73 L316.27 216.15 L316.88 215.57 L317.49 214.98 L318.10 214.40 L318.70 213.82 L319.31 213.23 L319.92 212.65 L320.53 212.07 L321.14 211.49 L321.75 210.90 L322.36 210.32 L322.97 209.74 L323.58 209.15 L324.18 208.57 L324.79 207.99 L325.40 207.40 L326.01 206.82 L326.62 206.24 L327.23 205.66 L327.84 205.07 L328.45 204.49 L329.06 203.91 L329.66 203.32 L330.27 202.74 L330.88 202.16 L331.49 201.58 L332.10 200.99 L332.71 200.41 L333.32 199.83 L333.93 199.24 L334.54 198.66 L335.14 198.08 L335.75 197.49 L336.36 196.91 L336.97 196.33 L337.58 195.75 L338.19 195.16 L338.80 194.58 L339.41 194.00 L340.02 193.41 L340.62 192.83 L341.23 192.25 L341.84 191.67 L342.45 191.08 L343.06 190.50 L343.67 189.92 L344.28 189.33 L344.89 188.75 L345.50 188.17 L346.11 187.58 L346.71 187.00 L347.32 186.42 L347.93 185.84 L348.54 185.25 L349.15 184.67 L349.76 184.09 L350.37 183.50 L350.98 182.92 L351.59 182.34 L352.19 181.76 L352.80 181.17 L353.41 180.59 L354.02 180.01 L354.63 179.42 L355.24 178.84 L355.85 178.26 L356.46 177.67 L357.07 177.09 L357.67 176.51 L358.28 175.93 L358.89 175.36 L359.50 174.79 L360.11 174.22 L360.72 173.66 L361.33 173.10 L361.94 172.54 L362.55 171.98 L363.15 171.43 L363.76 170.89 L364.37 170.34 L364.98 169.80 L365.59 169.26 L366.20 168.72 L366.81 168.19 L367.42 167.66 L368.03 167.13 L368.63 166.61 L369.24 166.09 L369.85 165.57 L370.46 165.06 L371.07 164.55 L371.68 164.04 L372.29 163.53 L372.90 163.03 L373.51 162.53 L374.11 162.03 L374.72 161.54 L375.33 161.05 L375.94 160.56 L376.55 160.08 L377.16 159.60 L377.77 159.12 L378.38 158.64 L378.99 158.17 L379.59 157.70 L380.20 157.24 L380.81 156.77 L381.42 156.31 L382.03 155.85 L382.64 155.40 L383.25 154.95 L383.86 154.50 L384.47 154.05 L385.07 153.61 L385.68 153.17 L386.29 152.74 L386.90 152.30 L387.51 151.87 L388.12 151.45 L388.73 151.02 L389.34 150.60 L389.95 150.18 L390.55 149.77 L391.16 149.36 L391.77 148.95 L392.38 148.55 L392.99 148.14 L393.60 147.74 L394.21 147.35 L394.82 146.96 L395.43 146.57 L396.03 146.18 L396.64 145.80 L397.25 145.42 L397.86 145.04 L398.47 144.67 L399.08 144.29 L399.69 143.91 L400.30 143.53 L400.91 143.15 L401.51 142.77 L402.12 142.40 L402.73 142.02 L403.34 141.64 L403.95 141.26 L404.56 140.88 L405.17 140.51 L405.78 140.13 L406.39 139.75 L407.00 139.37 L407.60 138.99 L408.21 138.61 L408.82 138.24 L409.43 137.86 L410.04 137.48 L410.65 137.10 L411.26 136.72 L411.87 136.34 L412.48 135.97 L413.08 135.59 L413.69 135.21 L414.30 134.83 L414.91 134.45 L415.52 134.07 L416.13 133.70 L416.74 133.32 L417.35 132.94 L417.96 132.56 L418.56 132.18 L419.17 131.81 L419.78 131.43 L420.39 131.05 L421.00 130.67 L421.61 130.29 L422.22 129.91 L422.83 129.54 L423.44 129.16 L424.04 128.78 L424.65 128.40 L425.26 128.02 L425.87 127.64 L426.48 127.27 L427.09 126.89 L427.70 126.51 L428.31 126.13 L428.92 125.75 L429.52 125.37 L430.13 125.00 L430.74 124.62 L431.35 124.24 L431.96 123.86 L432.57 123.48 L433.18 123.10 L433.79 122.73 L434.40 122.35 L435.00 121.97 L435.61 121.59 L436.22 121.21 L436.83 120.84 L437.44 120.46 L438.05 120.08 L438.66 119.70 L439.27 119.32 L439.88 118.94 L440.48 118.57 L441.09 118.19 L441.70 117.81 L442.31 117.43 L442.92 117.05 L443.53 116.67 L444.14 116.30 L444.75 115.92 L445.36 115.54 L445.96 115.16 L446.57 114.78 L447.18 114.40 L447.79 114.03 L448.40 113.65 L449.01 113.27 L449.62 112.89 L450.23 112.51 L450.84 112.14 L451.44 111.76 L452.05 111.38 L452.66 111.00 L453.27 110.62 L453.88 110.24 L454.49 109.87 L455.10 109.49 L455.71 109.11 L456.32 108.73 L456.92 108.35 L457.53 107.97 L458.14 107.60 L458.75 107.22 L459.36 106.84 L459.97 106.46 L460.58 106.08 L461.19 105.70 L461.80 105.33 L462.40 104.95 L463.01 104.57 L463.62 104.19 L464.23 103.81 L464.84 103.44 L465.45 103.06 L466.06 102.68 L466.67 102.30 L467.28 101.92 L467.88 101.54 L468.49 101.17 L469.10 100.79 L469.71 100.41 L470.32 100.03 L470.93 99.65 L471.54 99.27 L472.15 98.90 L472.76 98.52 L473.37 98.14 L473.97 97.76 L474.58 97.38 L475.19 97.00 L475.80 96.63 L476.41 96.25 L477.02 95.87 L477.63 95.49 L478.24 95.11 L478.85 94.74 L479.45 94.37 L480.06 94.00 L480.67 93.64 L481.28 93.27 L481.89 92.92 L482.50 92.56 L483.11 92.21 L483.72 91.86 L484.33 91.52 L484.93 91.17 L485.54 90.84 L486.15 90.50 L486.76 90.17 L487.37 89.84 L487.98 89.51 L488.59 89.19 L489.20 88.87 L489.81 88.55 L490.41 88.24 L491.02 87.92 L491.63 87.62 L492.24 87.31 L492.85 87.01 L493.46 86.71 L494.07 86.41 L494.68 86.12 L495.29 85.83 L495.89 85.54 L496.50 85.26 L497.11 84.98 L497.72 84.70 L498.33 84.43 L498.94 84.15 L499.55 83.88 L500.16 83.62 L500.77 83.36 L501.37 83.10 L501.98 82.84 L502.59 82.58 L503.20 82.33 L503.81 82.08 L504.42 81.84 L505.03 81.60 L505.64 81.36 L506.25 81.12 L506.85 80.89 L507.46 80.66 L508.07 80.43 L508.68 80.21 L509.29 79.99 L509.90 79.77 L510.51 79.56 L511.12 79.34 L511.73 79.14 L512.33 78.93 L512.94 78.73 L513.55 78.53 L514.16 78.33 L514.77 78.14 L515.38 77.95 L515.99 77.77 L516.60 77.58 L517.21 77.41 L517.81 77.23 L518.42 77.06 L519.03 76.88 L519.64 76.71 L520.25 76.54 L520.86 76.37 L521.47 76.20 L522.08 76.02 L522.69 75.85 L523.29 75.68 L523.90 75.51 L524.51 75.34 L525.12 75.16 L525.73 74.99 L526.34 74.82 L526.95 74.65 L527.56 74.48 L528.17 74.30 L528.77 74.13 L529.38 73.96 L529.99 73.79 L530.60 73.62 L531.21 73.44 L531.82 73.27 L532.43 73.10 L533.04 72.93 L533.65 72.76 L534.26 72.58 L534.86 72.41 L535.47 72.24 L536.08 72.07 L536.69 71.90 L537.30 71.72 L537.91 71.55 L538.52 71.38 L539.13 71.21 L539.74 71.04 L540.34 70.86 L540.95 70.69 L541.56 70.52 L542.17 70.35 L542.78 70.18 L543.39 70.00 L544.00 69.83 L544.61 69.66 L545.22 69.49 L545.82 69.31 L546.43 69.14 L547.04 68.97 L547.65 68.80 L548.26 68.63 L548.87 68.45 L549.48 68.28 L550.09 68.11 L550.70 67.94 L551.30 67.77 L551.91 67.59 L552.52 67.42 L553.13 67.25 L553.74 67.08 L554.35 66.91 L554.96 66.73 L555.57 66.56 L556.18 66.39 L556.78 66.22 L557.39 66.05 L558.00 65.87 L558.61 65.70 L559.22 65.53 L559.83 65.36 L560.44 65.19 L561.05 65.01 L561.66 64.84 L562.26 64.67 L562.87 64.50 L563.48 64.33 L564.09 64.15 L564.70 63.98 L565.31 63.81 L565.92 63.64 L566.53 63.47 L567.14 63.29 L567.74 63.12 L568.35 62.95 L568.96 62.78 L569.57 62.61 L570.18 62.43 L570.79 62.26 L571.40 62.09 L572.01 61.92 L572.62 61.75 L573.22 61.57 L573.83 61.40 L574.44 61.23 L575.05 61.06 L575.66 60.89 L576.27 60.71 L576.88 60.54 L577.49 60.37 L578.10 60.20 L578.70 60.03 L579.31 59.85 L579.92 59.68 L580.53 59.51 L581.14 59.34 L581.75 59.16 L582.36 58.99 L582.97 58.82 L583.58 58.65 L584.18 58.48 L584.79 58.30 L585.40 58.13 L586.01 57.96 L586.62 57.79 L587.23 57.62 L587.84 57.44 L588.45 57.27 L589.06 57.10 L589.67 56.93 L590.27 56.76 L590.88 56.58 L591.49 56.41 L592.10 56.24 L592.71 56.07 L593.32 55.90 L593.93 55.72 L594.54 55.55 L595.15 55.38 L595.75 55.21 L596.36 55.04 L596.97 54.86 L597.58 54.69 L598.19 54.52 L598.80 54.35 L599.41 54.18 L600.02 54.00 L600.63 53.83 L601.23 53.66 L601.84 53.50 L602.45 53.34 L603.06 53.18 L603.67 53.03 L604.28 52.87 L604.89 52.73 L605.50 52.58 L606.11 52.44 L606.71 52.30 L607.32 52.16 L607.93 52.03 L608.54 51.90 L609.15 51.77 L609.76 51.65 L610.37 51.53 L610.98 51.41 L611.59 51.30 L612.19 51.19 L612.80 51.08 L613.41 50.98 L614.02 50.87 L614.63 50.77 L615.24 50.68 L615.85 50.59 L616.46 50.50 L617.07 50.41 L617.67 50.33 L618.28 50.24 L618.89 50.17 L619.50 50.09 L620.11 50.02 L620.72 49.95 L621.33 49.88 L621.94 49.82 L622.55 49.76 L623.15 49.70 L623.76 49.65 L624.37 49.60 L624.98 49.55 L625.59 49.51 L626.20 49.46 L626.81 49.43 L627.42 49.39 L628.03 49.36 L628.63 49.33 L629.24 49.30 L629.85 49.28 L630.46 49.26 L631.07 49.24 L631.68 49.22 L632.29 49.21 L632.90 49.20 L633.51 49.20 L634.11 49.20 L634.72 49.20 L635.33 49.20 L635.94 49.21 L636.55 49.22 L637.16 49.23 L637.77 49.25 L638.38 49.27 L638.99 49.30 L639.59 49.32 L640.20 49.35 L640.81 49.39 L641.42 49.42 L642.03 49.46 L642.64 49.51 L643.25 49.56 L643.86 49.61 L644.47 49.66 L645.07 49.72 L645.68 49.78 L646.29 49.85 L646.90 49.91 L647.51 49.99 L648.12 50.06 L648.73 50.14 L649.34 50.23 L649.95 50.32 L650.56 50.41 L651.16 50.50 L651.77 50.60 L652.38 50.71 L652.99 50.81 L653.60 50.93 L654.21 51.04 L654.82 51.16 L655.43 51.29 L656.04 51.42 L656.64 51.55 L657.25 51.69 L657.86 51.84 L658.47 51.99 L659.08 52.14 L659.69 52.30 L660.30 52.46 L660.91 52.63 L661.52 52.81 L662.12 52.99 L662.73 53.17 L663.34 53.36 L663.95 53.56 L664.56 53.77 L665.17 53.98 L665.78 54.19 L666.39 54.42 L667.00 54.65 L667.60 54.89 L668.21 55.13 L668.82 55.39 L669.43 55.65 L670.04 55.92 L670.65 56.20 L671.26 56.49 L671.87 56.79 L672.48 57.10 L673.08 57.42 L673.69 57.76 L674.30 58.11 L674.91 58.47 L675.52 58.85 L676.13 59.24 L676.74 59.66 L677.35 60.09 L677.96 60.56 L678.56 61.05 L679.17 61.58 L679.78 62.17 L680.39 62.83 L681.00 63.70" stroke="#77AC30" stroke-width="1.20"/>
<path d="M72.10 545.60 L72.71 543.76 L73.32 542.13 L73.93 540.57 L74.54 539.07 L75.14 537.61 L75.75 536.17 L76.36 534.77 L76.97 533.38 L77.58 532.02 L78.19 530.67 L78.80 529.34 L79.41 528.02 L80.02 526.71 L80.62 525.42 L81.23 524.14 L81.84 522.87 L82.45 521.61 L83.06 520.36 L83.67 519.12 L84.28 517.89 L84.89 516.66 L85.50 515.45 L86.10 514.24 L86.71 513.04 L87.32 511.84 L87.93 510.66 L88.54 509.48 L89.15 508.30 L89.76 507.14 L90.37 505.97 L90.98 504.82 L91.58 503.67 L92.19 502.52 L92.80 501.38 L93.41 500.25 L94.02 499.12 L94.63 498.00 L95.24 496.88 L95.85 495.76 L96.46 494.65 L97.06 493.55 L97.67 492.45 L98.28 491.35 L98.89 490.26 L99.50 489.18 L100.11 488.09 L100.72 487.02 L101.33 485.94 L101.94 484.87 L102.54 483.81 L103.15 482.75 L103.76 481.69 L104.37 480.63 L104.98 479.58 L105.59 478.54 L106.20 477.49 L106.81 476.46 L107.42 475.42 L108.03 474.39 L108.63 473.36 L109.24 472.34 L109.85 471.32 L110.46 470.30 L111.07 469.28 L111.68 468.27 L112.29 467.27 L112.90 466.26 L113.51 465.26 L114.11 464.27 L114.72 463.27 L115.33 462.28 L115.94 461.29 L116.55 460.31 L117.16 459.33 L117.77 458.35 L118.38 457.38 L118.99 456.41 L119.59 455.44 L120.20 454.47 L120.81 453.51 L121.42 452.55 L122.03 451.60 L122.64 450.64 L123.25 449.70 L123.86 448.75 L124.47 447.81 L125.07 446.87 L125.68 445.93 L126.29 444.99 L126.90 444.06 L127.51 443.14 L128.12 442.21 L128.73 441.29 L129.34 440.37 L129.95 439.45 L130.55 438.54 L131.16 437.63 L131.77 436.72 L132.38 435.82 L132.99 434.92 L133.60 434.02 L134.21 433.13 L134.82 432.23 L135.43 431.34 L136.03 430.46 L136.64 429.57 L137.25 428.69 L137.86 427.82 L138.47 426.94 L139.08 426.07 L139.69 425.20 L140.30 424.34 L140.91 423.48 L141.51 422.62 L142.12 421.76 L142.73 420.91 L143.34 420.06 L143.95 419.21 L144.56 418.37 L145.17 417.53 L145.78 416.69 L146.39 415.86 L146.99 415.03 L147.60 414.20 L148.21 413.37 L148.82 412.55 L149.43 411.73 L150.04 410.92 L150.65 410.11 L151.26 409.30 L151.87 408.49 L152.47 407.69 L153.08 406.89 L153.69 406.10 L154.30 405.30 L154.91 404.52 L155.52 403.73 L156.13 402.95 L156.74 402.17 L157.35 401.40 L157.95 400.63 L158.56 399.86 L159.17 399.09 L159.78 398.33 L160.39 397.58 L161.00 396.82 L161.61 396.08 L162.22 395.33 L162.83 394.59 L163.44 393.85 L164.04 393.12 L164.65 392.39 L165.26 391.66 L165.87 390.94 L166.48 390.23 L167.09 389.51 L167.70 388.81 L168.31 388.10 L168.92 387.40 L169.52 386.71 L170.13 386.02 L170.74 385.33 L171.35 384.65 L171.96 383.98 L172.57 383.31 L173.18 382.64 L173.79 381.98 L174.40 381.33 L175.00 380.68 L175.61 380.04 L176.22 379.40 L176.83 378.77 L177.44 378.14 L178.05 377.52 L178.66 376.91 L179.27 376.31 L179.88 375.71 L180.48 375.12 L181.09 374.54 L181.70 373.96 L182.31 373.39 L182.92 372.84 L183.53 372.29 L184.14 371.75 L184.75 371.22 L185.36 370.70 L185.96 370.19 L186.57 369.70 L187.18 369.22 L187.79 368.75 L188.40 368.30 L189.01 367.86 L189.62 367.45 L190.23 367.06 L190.84 366.69 L191.44 366.36 L192.05 366.06 L192.66 365.81 L193.27 365.65 L193.88 365.69 L194.49 364.07 L195.10 362.65 L195.71 361.31 L196.32 360.03 L196.92 358.78 L197.53 357.56 L198.14 356.37 L198.75 355.20 L199.36 354.06 L199.97 352.92 L200.58 351.81 L201.19 350.71 L201.80 349.62 L202.40 348.54 L203.01 347.48 L203.62 346.43 L204.23 345.38 L204.84 344.35 L205.45 343.33 L206.06 342.31 L206.67 341.30 L207.28 340.30 L207.88 339.31 L208.49 338.33 L209.10 337.35 L209.71 336.38 L210.32 335.42 L210.93 334.46 L211.54 333.51 L212.15 332.56 L212.76 331.62 L213.36 330.69 L213.97 329.76 L214.58 328.84 L215.19 327.92 L215.80 327.01 L216.41 326.10 L217.02 325.20 L217.63 324.30 L218.24 323.41 L218.84 322.52 L219.45 321.64 L220.06 320.76 L220.67 319.88 L221.28 319.01 L221.89 318.15 L222.50 317.29 L223.11 316.43 L223.72 315.58 L224.32 314.73 L224.93 313.88 L225.54 313.04 L226.15 312.20 L226.76 311.37 L227.37 310.54 L227.98 309.71 L228.59 308.89 L229.20 308.07 L229.81 307.26 L230.41 306.45 L231.02 305.64 L231.63 304.83 L232.24 304.03 L232.85 303.24 L233.46 302.44 L234.07 301.65 L234.68 300.86 L235.29 300.08 L235.89 299.30 L236.50 298.52 L237.11 297.75 L237.72 296.98 L238.33 296.21 L238.94 295.45 L239.55 294.69 L240.16 293.93 L240.77 293.17 L241.37 292.42 L241.98 291.67 L242.59 290.93 L243.20 290.19 L243.81 289.45 L244.42 288.71 L245.03 287.98 L245.64 287.25 L246.25 286.52 L246.85 285.80 L247.46 285.08 L248.07 284.36 L248.68 283.65 L249.29 282.94 L249.90 282.23 L250.51 281.52 L251.12 280.82 L251.73 280.12 L252.33 279.42 L252.94 278.73 L253.55 278.04 L254.16 277.35 L254.77 276.67 L255.38 275.99 L255.99 275.31 L256.60 274.63 L257.21 273.96 L257.81 273.29 L258.42 272.62 L259.03 271.96 L259.64 271.30 L260.25 270.64 L260.86 269.99 L261.47 269.34 L262.08 268.69 L262.69 268.04 L263.29 267.40 L263.90 266.76 L264.51 266.13 L265.12 265.49 L265.73 264.86 L266.34 264.24 L266.95 263.61 L267.56 262.99 L268.17 262.37 L268.77 261.76 L269.38 261.15 L269.99 260.54 L270.60 259.93 L271.21 259.33 L271.82 258.73 L272.43 258.14 L273.04 257.55 L273.65 256.96 L274.25 256.37 L274.86 255.79 L275.47 255.21 L276.08 254.64 L276.69 254.06 L277.30 253.50 L277.91 252.93 L278.52 252.37 L279.13 251.81 L279.73 251.26 L280.34 250.71 L280.95 250.16 L281.56 249.61 L282.17 249.07 L282.78 248.54 L283.39 248.01 L284.00 247.48 L284.61 246.95 L285.22 246.43 L285.82 245.92 L286.43 245.40 L287.04 244.89 L287.65 244.39 L288.26 243.89 L288.87 243.39 L289.48 242.90 L290.09 242.42 L290.70 241.93 L291.30 241.45 L291.91 240.98 L292.52 240.51 L293.13 240.05 L293.74 239.59 L294.35 239.14 L294.96 238.69 L295.57 238.24 L296.18 237.81 L296.78 237.37 L297.39 236.95 L298.00 236.53 L298.61 236.11 L299.22 235.70 L299.83 235.30 L300.44 234.91 L301.05 234.52 L301.66 234.14 L302.26 233.76 L302.87 233.40 L303.48 233.04 L304.09 232.69 L304.70 232.35 L305.31 232.01 L305.92 231.69 L306.53 231.38 L307.14 231.08 L307.74 230.79 L308.35 230.51 L308.96 230.24 L309.57 229.99 L310.18 229.76 L310.79 229.54 L311.40 229.34 L312.01 229.17 L312.62 229.02 L313.22 228.90 L313.83 228.82 L314.44 228.79 L315.05 228.84 L315.66 229.10 L316.27 227.68 L316.88 226.46 L317.49 225.32 L318.10 224.24 L318.70 223.19 L319.31 222.17 L319.92 221.18 L320.53 220.21 L321.14 219.27 L321.75 218.33 L322.36 217.42 L322.97 216.52 L323.58 215.63 L324.18 214.75 L324.79 213.89 L325.40 213.04 L326.01 212.19 L326.62 211.36 L327.23 210.54 L327.84 209.72 L328.45 208.91 L329.06 208.11 L329.66 207.32 L330.27 206.54 L330.88 205.76 L331.49 204.99 L332.10 204.23 L332.71 203.47 L333.32 202.72 L333.93 201.97 L334.54 201.23 L335.14 200.50 L335.75 199.77 L336.36 199.05 L336.97 198.33 L337.58 197.62 L338.19 196.91 L338.80 196.21 L339.41 195.51 L340.02 194.82 L340.62 194.13 L341.23 193.45 L341.84 192.77 L342.45 192.09 L343.06 191.42 L343.67 190.76 L344.28 190.10 L344.89 189.44 L345.50 188.79 L346.11 188.14 L346.71 187.49 L347.32 186.85 L347.93 186.21 L348.54 185.58 L349.15 184.95 L349.76 184.32 L350.37 183.70 L350.98 183.08 L351.59 182.47 L352.19 181.86 L352.80 181.25 L353.41 180.65 L354.02 180.04 L354.63 179.45 L355.24 178.85 L355.85 178.26 L356.46 177.68 L357.07 177.09 L357.67 176.51 L358.28 175.93 L358.89 175.36 L359.50 174.79 L360.11 174.22 L360.72 173.66 L361.33 173.10 L361.94 172.54 L362.55 171.98 L363.15 171.43 L363.76 170.89 L364.37 170.34 L364.98 169.80 L365.59 169.26 L366.20 168.72 L366.81 168.19 L367.42 167.66 L368.03 167.13 L368.63 166.61 L369.24 166.09 L369.85 165.57 L370.46 165.06 L371.07 164.55 L371.68 164.04 L372.29 163.53 L372.90 163.03 L373.51 162.53 L374.11 162.03 L374.72 161.54 L375.33 161.05 L375.94 160.56 L376.55 160.08 L377.16 159.60 L377.77 159.12 L378.38 158.64 L378.99 158.17 L379.59 157.70 L380.20 157.24 L380.81 156.77 L381.42 156.31 L382.03 155.85 L382.64 155.40 L383.25 154.95 L383.86 154.50 L384.47 154.05 L385.07 153.61 L385.68 153.17 L386.29 152.74 L386.90 152.30 L387.51 151.87 L388.12 151.45 L388.73 151.02 L389.34 150.60 L389.95 150.18 L390.55 149.77 L391.16 149.36 L391.77 148.95 L392.38 148.55 L392.99 148.14 L393.60 147.74 L394.21 147.35 L394.82 146.96 L395.43 146.57 L396.03 146.18 L396.64 145.80 L397.25 145.42 L397.86 145.05 L398.47 144.68 L399.08 144.31 L399.69 143.94 L400.30 143.58 L400.91 143.22 L401.51 142.87 L402.12 142.52 L402.73 142.17 L403.34 141.83 L403.95 141.49 L404.56 141.15 L405.17 140.82 L405.78 140.49 L406.39 140.16 L407.00 139.84 L407.60 139.53 L408.21 139.21 L408.82 138.91 L409.43 138.60 L410.04 138.30 L410.65 138.01 L411.26 137.71 L411.87 137.43 L412.48 137.14 L413.08 136.87 L413.69 136.59 L414.30 136.32 L414.91 136.06 L415.52 135.80 L416.13 135.55 L416.74 135.30 L417.35 135.06 L417.96 134.82 L418.56 134.59 L419.17 134.36 L419.78 134.14 L420.39 133.93 L421.00 133.72 L421.61 133.51 L422.22 133.32 L422.83 133.13 L423.44 132.95 L424.04 132.78 L424.65 132.61 L425.26 132.45 L425.87 132.30 L426.48 132.16 L427.09 132.03 L427.70 131.90 L428.31 131.79 L428.92 131.69 L429.52 131.60 L430.13 131.52 L430.74 131.46 L431.35 131.41 L431.96 131.37 L432.57 131.35 L433.18 131.36 L433.79 131.38 L434.40 131.43 L435.00 131.51 L435.61 131.63 L436.22 131.80 L436.83 132.05 L437.44 132.51 L438.05 131.30 L438.66 130.29 L439.27 129.36 L439.88 128.49 L440.48 127.65 L441.09 126.84 L441.70 126.06 L442.31 125.30 L442.92 124.56 L443.53 123.84 L444.14 123.13 L444.75 122.44 L445.36 121.76 L445.96 121.10 L446.57 120.44 L447.18 119.80 L447.79 119.17 L448.40 118.54 L449.01 117.93 L449.62 117.32 L450.23 116.72 L450.84 116.13 L451.44 115.55 L452.05 114.97 L452.66 114.41 L453.27 113.84 L453.88 113.29 L454.49 112.74 L455.10 112.20 L455.71 111.66 L456.32 111.13 L456.92 110.61 L457.53 110.09 L458.14 109.58 L458.75 109.07 L459.36 108.57 L459.97 108.07 L460.58 107.58 L461.19 107.09 L461.80 106.61 L462.40 106.13 L463.01 105.65 L463.62 105.18 L464.23 104.72 L464.84 104.26 L465.45 103.80 L466.06 103.35 L466.67 102.90 L467.28 102.46 L467.88 102.02 L468.49 101.58 L469.10 101.15 L469.71 100.72 L470.32 100.30 L470.93 99.88 L471.54 99.46 L472.15 99.05 L472.76 98.64 L473.37 98.23 L473.97 97.83 L474.58 97.43 L475.19 97.04 L475.80 96.65 L476.41 96.26 L477.02 95.87 L477.63 95.49 L478.24 95.11 L478.85 94.74 L479.45 94.37 L480.06 94.00 L480.67 93.64 L481.28 93.27 L481.89 92.92 L482.50 92.56 L483.11 92.21 L483.72 91.86 L484.33 91.52 L484.93 91.17 L485.54 90.84 L486.15 90.50 L486.76 90.17 L487.37 89.84 L487.98 89.51 L488.59 89.19 L489.20 88.87 L489.81 88.55 L490.41 88.24 L491.02 87.92 L491.63 87.62 L492.24 87.31 L492.85 87.01 L493.46 86.71 L494.07 86.41 L494.68 86.12 L495.29 85.83 L495.89 85.54 L496.50 85.26 L497.11 84.98 L497.72 84.70 L498.33 84.43 L498.94 84.15 L499.55 83.88 L500.16 83.62 L500.77 83.36 L501.37 83.10 L501.98 82.84 L502.59 82.58 L503.20 82.33 L503.81 82.08 L504.42 81.84 L505.03 81.60 L505.64 81.36 L506.25 81.12 L506.85 80.89 L507.46 80.66 L508.07 80.43 L508.68 80.21 L509.29 79.99 L509.90 79.77 L510.51 79.56 L511.12 79.34 L511.73 79.14 L512.33 78.93 L512.94 78.73 L513.55 78.53 L514.16 78.33 L514.77 78.14 L515.38 77.95 L515.99 77.77 L516.60 77.58 L517.21 77.41 L517.81 77.23 L518.42 77.06 L519.03 76.89 L519.64 76.72 L520.25 76.56 L520.86 76.40 L521.47 76.24 L522.08 76.09 L522.69 75.94 L523.29 75.80 L523.90 75.66 L524.51 75.52 L525.12 75.38 L525.73 75.25 L526.34 75.13 L526.95 75.00 L527.56 74.88 L528.17 74.77 L528.77 74.66 L529.38 74.55 L529.99 74.45 L530.60 74.35 L531.21 74.25 L531.82 74.16 L532.43 74.08 L533.04 73.99 L533.65 73.92 L534.26 73.84 L534.86 73.77 L535.47 73.71 L536.08 73.65 L536.69 73.60 L537.30 73.55 L537.91 73.50 L538.52 73.46 L539.13 73.43 L539.74 73.40 L540.34 73.38 L540.95 73.36 L541.56 73.35 L542.17 73.34 L542.78 73.35 L543.39 73.35 L544.00 73.37 L544.61 73.39 L545.22 73.42 L545.82 73.45 L546.43 73.49 L547.04 73.54 L547.65 73.60 L548.26 73.67 L548.87 73.75 L549.48 73.83 L550.09 73.93 L550.70 74.04 L551.30 74.16 L551.91 74.29 L552.52 74.43 L553.13 74.59 L553.74 74.77 L554.35 74.96 L554.96 75.17 L555.57 75.41 L556.18 75.67 L556.78 75.96 L557.39 76.29 L558.00 76.67 L558.61 77.13 L559.22 77.79 L559.83 76.78 L560.44 75.98 L561.05 75.25 L561.66 74.58 L562.26 73.95 L562.87 73.34 L563.48 72.76 L564.09 72.21 L564.70 71.67 L565.31 71.15 L565.92 70.65 L566.53 70.16 L567.14 69.69 L567.74 69.22 L568.35 68.77 L568.96 68.33 L569.57 67.90 L570.18 67.48 L570.79 67.07 L571.40 66.66 L572.01 66.27 L572.62 65.88 L573.22 65.50 L573.83 65.13 L574.44 64.77 L575.05 64.41 L575.66 64.06 L576.27 63.71 L576.88 63.37 L577.49 63.04 L578.10 62.71 L578.70 62.39 L579.31 62.08 L579.92 61.77 L580.53 61.46 L581.14 61.16 L581.75 60.87 L582.36 60.58 L582.97 60.29 L583.58 60.01 L584.18 59.74 L584.79 59.46 L585.40 59.20 L586.01 58.94 L586.62 58.68 L587.23 58.43 L587.84 58.18 L588.45 57.93 L589.06 57.69 L589.67 57.45 L590.27 57.22 L590.88 56.99 L591.49 56.77 L592.10 56.55 L592.71 56.33 L593.32 56.12 L593.93 55.91 L594.54 55.70 L595.15 55.50 L595.75 55.30 L596.36 55.10 L596.97 54.91 L597.58 54.72 L598.19 54.54 L598.80 54.36 L599.41 54.18 L600.02 54.00 L600.63 53.83 L601.23 53.66 L601.84 53.50 L602.45 53.34 L603.06 53.18 L603.67 53.03 L604.28 52.87 L604.89 52.73 L605.50 52.58 L606.11 52.44 L606.71 52.30 L607.32 52.16 L607.93 52.03 L608.54 51.90 L609.15 51.77 L609.76 51.65 L610.37 51.53 L610.98 51.41 L611.59 51.30 L612.19 51.19 L612.80 51.08 L613.41 50.98 L614.02 50.87 L614.63 50.77 L615.24 50.68 L615.85 50.59 L616.46 50.50 L617.07 50.41 L617.67 50.33 L618.28 50.24 L618.89 50.17 L619.50 50.09 L620.11 50.02 L620.72 49.95 L621.33 49.88 L621.94 49.82 L622.55 49.76 L623.15 49.70 L623.76 49.65 L624.37 49.60 L624.98 49.55 L625.59 49.51 L626.20 49.46 L626.81 49.43 L627.42 49.39 L628.03 49.36 L628.63 49.33 L629.24 49.30 L629.85 49.28 L630.46 49.26 L631.07 49.24 L631.68 49.22 L632.29 49.21 L632.90 49.20 L633.51 49.20 L634.11 49.20 L634.72 49.20 L635.33 49.20 L635.94 49.21 L636.55 49.22 L637.16 49.23 L637.77 49.25 L638.38 49.27 L638.99 49.30 L639.59 49.32 L640.20 49.35 L640.81 49.39 L641.42 49.42 L642.03 49.46 L642.64 49.51 L643.25 49.56 L643.86 49.61 L644.47 49.66 L645.07 49.72 L645.68 49.78 L646.29 49.85 L646.90 49.91 L647.51 49.99 L648.12 50.06 L648.73 50.14 L649.34 50.23 L649.95 50.32 L650.56 50.41 L651.16 50.50 L651.77 50.60 L652.38 50.71 L652.99 50.81 L653.60 50.93 L654.21 51.04 L654.82 51.16 L655.43 51.29 L656.04 51.42 L656.64 51.55 L657.25 51.69 L657.86 51.84 L658.47 51.99 L659.08 52.14 L659.69 52.30 L660.30 52.46 L660.91 52.63 L661.52 52.81 L662.12 52.99 L662.73 53.17 L663.34 53.36 L663.95 53.56 L664.56 53.77 L665.17 53.98 L665.78 54.19 L666.39 54.42 L667.00 54.65 L667.60 54.89 L668.21 55.13 L668.82 55.39 L669.43 55.65 L670.04 55.92 L670.65 56.20 L671.26 56.49 L671.87 56.79 L672.48 57.10 L673.08 57.42 L673.69 57.76 L674.30 58.11 L674.91 58.47 L675.52 58.85 L676.13 59.24 L676.74 59.66 L677.35 60.09 L677.96 60.56 L678.56 61.05 L679.17 61.58 L679.78 62.17 L680.39 62.83 L681.00 63.70" stroke="#77AC30" stroke-width="2.10" stroke-dasharray="2 1.8"/>
<path d="M72.10 582.74 L72.71 580.87 L73.32 579.20 L73.93 577.61 L74.54 576.08 L75.14 574.58 L75.75 573.12 L76.36 571.68 L76.97 570.26 L77.58 568.86 L78.19 567.48 L78.80 566.11 L79.41 564.76 L80.02 563.42 L80.62 562.10 L81.23 560.78 L81.84 559.48 L82.45 558.19 L83.06 556.91 L83.67 555.63 L84.28 554.37 L84.89 553.11 L85.50 551.86 L86.10 550.62 L86.71 549.38 L87.32 548.16 L87.93 546.94 L88.54 545.72 L89.15 544.52 L89.76 543.31 L90.37 542.12 L90.98 540.93 L91.58 539.75 L92.19 538.57 L92.80 537.40 L93.41 536.23 L94.02 535.07 L94.63 533.91 L95.24 532.76 L95.85 531.61 L96.46 530.47 L97.06 529.33 L97.67 528.20 L98.28 527.07 L98.89 525.95 L99.50 524.83 L100.11 523.71 L100.72 522.60 L101.33 521.49 L101.94 520.39 L102.54 519.29 L103.15 518.20 L103.76 517.10 L104.37 516.02 L104.98 514.93 L105.59 513.85 L106.20 512.78 L106.81 511.71 L107.42 510.64 L108.03 509.57 L108.63 508.51 L109.24 507.45 L109.85 506.40 L110.46 505.35 L111.07 504.30 L111.68 503.26 L112.29 502.22 L112.90 501.18 L113.51 500.15 L114.11 499.12 L114.72 498.09 L115.33 497.07 L115.94 496.05 L116.55 495.03 L117.16 494.02 L117.77 493.01 L118.38 492.00 L118.99 490.99 L119.59 489.99 L120.20 488.99 L120.81 488.00 L121.42 487.01 L122.03 486.02 L122.64 485.03 L123.25 484.05 L123.86 483.07 L124.47 482.09 L125.07 481.12 L125.68 480.15 L126.29 479.18 L126.90 478.22 L127.51 477.26 L128.12 476.30 L128.73 475.35 L129.34 474.39 L129.95 473.44 L130.55 472.50 L131.16 471.55 L131.77 470.61 L132.38 469.68 L132.99 468.74 L133.60 467.81 L134.21 466.88 L134.82 465.96 L135.43 465.04 L136.03 464.12 L136.64 463.20 L137.25 462.29 L137.86 461.38 L138.47 460.47 L139.08 459.57 L139.69 458.66 L140.30 457.77 L140.91 456.87 L141.51 455.98 L142.12 455.09 L142.73 454.20 L143.34 453.32 L143.95 452.44 L144.56 451.56 L145.17 450.69 L145.78 449.82 L146.39 448.95 L146.99 448.09 L147.60 447.23 L148.21 446.37 L148.82 445.51 L149.43 444.66 L150.04 443.81 L150.65 442.97 L151.26 442.13 L151.87 441.29 L152.47 440.45 L153.08 439.62 L153.69 438.79 L154.30 437.97 L154.91 437.15 L155.52 436.33 L156.13 435.51 L156.74 434.70 L157.35 433.89 L157.95 433.09 L158.56 432.29 L159.17 431.49 L159.78 430.70 L160.39 429.91 L161.00 429.12 L161.61 428.34 L162.22 427.56 L162.83 426.79 L163.44 426.02 L164.04 425.25 L164.65 424.49 L165.26 423.73 L165.87 422.98 L166.48 422.23 L167.09 421.48 L167.70 420.74 L168.31 420.00 L168.92 419.27 L169.52 418.54 L170.13 417.82 L170.74 417.10 L171.35 416.39 L171.96 415.68 L172.57 414.98 L173.18 414.28 L173.79 413.59 L174.40 412.90 L175.00 412.22 L175.61 411.54 L176.22 410.87 L176.83 410.21 L177.44 409.55 L178.05 408.90 L178.66 408.25 L179.27 407.61 L179.88 406.98 L180.48 406.36 L181.09 405.74 L181.70 405.13 L182.31 404.53 L182.92 403.94 L183.53 403.36 L184.14 402.79 L184.75 402.22 L185.36 401.67 L185.96 401.13 L186.57 400.60 L187.18 400.09 L187.79 399.59 L188.40 399.11 L189.01 398.64 L189.62 398.19 L190.23 397.77 L190.84 397.37 L191.44 397.00 L192.05 396.67 L192.66 396.39 L193.27 396.19 L193.88 396.20 L194.49 394.53 L195.10 393.07 L195.71 391.69 L196.32 390.37 L196.92 389.08 L197.53 387.82 L198.14 386.58 L198.75 385.37 L199.36 384.18 L199.97 383.01 L200.58 381.85 L201.19 380.71 L201.80 379.58 L202.40 378.46 L203.01 377.35 L203.62 376.26 L204.23 375.17 L204.84 374.09 L205.45 373.03 L206.06 371.97 L206.67 370.92 L207.28 369.88 L207.88 368.84 L208.49 367.82 L209.10 366.80 L209.71 365.78 L210.32 364.78 L210.93 363.78 L211.54 362.78 L212.15 361.80 L212.76 360.81 L213.36 359.84 L213.97 358.87 L214.58 357.90 L215.19 356.94 L215.80 355.99 L216.41 355.04 L217.02 354.09 L217.63 353.15 L218.24 352.22 L218.84 351.29 L219.45 350.36 L220.06 349.44 L220.67 348.52 L221.28 347.61 L221.89 346.70 L222.50 345.80 L223.11 344.90 L223.72 344.00 L224.32 343.11 L224.93 342.22 L225.54 341.34 L226.15 340.46 L226.76 339.58 L227.37 338.71 L227.98 337.84 L228.59 336.98 L229.20 336.12 L229.81 335.26 L230.41 334.41 L231.02 333.56 L231.63 332.71 L232.24 331.87 L232.85 331.03 L233.46 330.19 L234.07 329.36 L234.68 328.53 L235.29 327.70 L235.89 326.88 L236.50 326.06 L237.11 325.24 L237.72 324.43 L238.33 323.62 L238.94 322.81 L239.55 322.01 L240.16 321.21 L240.77 320.41 L241.37 319.62 L241.98 318.83 L242.59 318.04 L243.20 317.25 L243.81 316.47 L244.42 315.69 L245.03 314.92 L245.64 314.15 L246.25 313.38 L246.85 312.61 L247.46 311.85 L248.07 311.09 L248.68 310.33 L249.29 309.58 L249.90 308.83 L250.51 308.08 L251.12 307.33 L251.73 306.59 L252.33 305.85 L252.94 305.12 L253.55 304.38 L254.16 303.65 L254.77 302.93 L255.38 302.20 L255.99 301.48 L256.60 300.76 L257.21 300.05 L257.81 299.34 L258.42 298.63 L259.03 297.92 L259.64 297.22 L260.25 296.52 L260.86 295.82 L261.47 295.13 L262.08 294.44 L262.69 293.75 L263.29 293.07 L263.90 292.38 L264.51 291.70 L265.12 291.03 L265.73 290.36 L266.34 289.69 L266.95 289.02 L267.56 288.36 L268.17 287.70 L268.77 287.04 L269.38 286.39 L269.99 285.74 L270.60 285.09 L271.21 284.44 L271.82 283.80 L272.43 283.17 L273.04 282.53 L273.65 281.90 L274.25 281.27 L274.86 280.65 L275.47 280.03 L276.08 279.41 L276.69 278.79 L277.30 278.18 L277.91 277.57 L278.52 276.97 L279.13 276.37 L279.73 275.77 L280.34 275.18 L280.95 274.59 L281.56 274.00 L282.17 273.42 L282.78 272.84 L283.39 272.27 L284.00 271.70 L284.61 271.13 L285.22 270.57 L285.82 270.01 L286.43 269.45 L287.04 268.90 L287.65 268.35 L288.26 267.81 L288.87 267.27 L289.48 266.74 L290.09 266.21 L290.70 265.68 L291.30 265.16 L291.91 264.65 L292.52 264.14 L293.13 263.63 L293.74 263.13 L294.35 262.63 L294.96 262.14 L295.57 261.66 L296.18 261.18 L296.78 260.70 L297.39 260.23 L298.00 259.77 L298.61 259.31 L299.22 258.86 L299.83 258.42 L300.44 257.98 L301.05 257.55 L301.66 257.12 L302.26 256.71 L302.87 256.30 L303.48 255.90 L304.09 255.51 L304.70 255.12 L305.31 254.75 L305.92 254.38 L306.53 254.03 L307.14 253.68 L307.74 253.35 L308.35 253.03 L308.96 252.72 L309.57 252.43 L310.18 252.15 L310.79 251.89 L311.40 251.65 L312.01 251.43 L312.62 251.24 L313.22 251.08 L313.83 250.96 L314.44 250.89 L315.05 250.89 L315.66 251.11 L316.27 249.65 L316.88 248.40 L317.49 247.23 L318.10 246.11 L318.70 245.02 L319.31 243.97 L319.92 242.95 L320.53 241.94 L321.14 240.96 L321.75 239.99 L322.36 239.04 L322.97 238.11 L323.58 237.18 L324.18 236.27 L324.79 235.37 L325.40 234.48 L326.01 233.61 L326.62 232.74 L327.23 231.88 L327.84 231.03 L328.45 230.18 L329.06 229.35 L329.66 228.52 L330.27 227.70 L330.88 226.89 L331.49 226.08 L332.10 225.28 L332.71 224.49 L333.32 223.71 L333.93 222.92 L334.54 222.15 L335.14 221.38 L335.75 220.62 L336.36 219.86 L336.97 219.11 L337.58 218.36 L338.19 217.62 L338.80 216.88 L339.41 216.15 L340.02 215.42 L340.62 214.70 L341.23 213.98 L341.84 213.26 L342.45 212.55 L343.06 211.85 L343.67 211.15 L344.28 210.45 L344.89 209.76 L345.50 209.07 L346.11 208.39 L346.71 207.71 L347.32 207.03 L347.93 206.36 L348.54 205.69 L349.15 205.02 L349.76 204.36 L350.37 203.70 L350.98 203.05 L351.59 202.40 L352.19 201.75 L352.80 201.11 L353.41 200.47 L354.02 199.83 L354.63 199.20 L355.24 198.57 L355.85 197.95 L356.46 197.32 L357.07 196.71 L357.67 196.09 L358.28 195.48 L358.89 194.87 L359.50 194.26 L360.11 193.66 L360.72 193.06 L361.33 192.46 L361.94 191.87 L362.55 191.28 L363.15 190.70 L363.76 190.11 L364.37 189.53 L364.98 188.95 L365.59 188.38 L366.20 187.81 L366.81 187.24 L367.42 186.68 L368.03 186.11 L368.63 185.56 L369.24 185.00 L369.85 184.45 L370.46 183.90 L371.07 183.35 L371.68 182.81 L372.29 182.27 L372.90 181.73 L373.51 181.19 L374.11 180.66 L374.72 180.13 L375.33 179.61 L375.94 179.09 L376.55 178.57 L377.16 178.05 L377.77 177.54 L378.38 177.02 L378.99 176.52 L379.59 176.01 L380.20 175.51 L380.81 175.01 L381.42 174.52 L382.03 174.02 L382.64 173.53 L383.25 173.05 L383.86 172.56 L384.47 172.08 L385.07 171.61 L385.68 171.13 L386.29 170.66 L386.90 170.19 L387.51 169.73 L388.12 169.26 L388.73 168.80 L389.34 168.35 L389.95 167.90 L390.55 167.45 L391.16 167.00 L391.77 166.56 L392.38 166.12 L392.99 165.68 L393.60 165.25 L394.21 164.81 L394.82 164.39 L395.43 163.96 L396.03 163.54 L396.64 163.13 L397.25 162.71 L397.86 162.30 L398.47 161.89 L399.08 161.49 L399.69 161.09 L400.30 160.69 L400.91 160.30 L401.51 159.91 L402.12 159.52 L402.73 159.14 L403.34 158.76 L403.95 158.39 L404.56 158.02 L405.17 157.65 L405.78 157.28 L406.39 156.92 L407.00 156.57 L407.60 156.22 L408.21 155.87 L408.82 155.53 L409.43 155.19 L410.04 154.85 L410.65 154.52 L411.26 154.19 L411.87 153.87 L412.48 153.55 L413.08 153.24 L413.69 152.93 L414.30 152.63 L414.91 152.33 L415.52 152.03 L416.13 151.74 L416.74 151.46 L417.35 151.18 L417.96 150.91 L418.56 150.64 L419.17 150.38 L419.78 150.12 L420.39 149.87 L421.00 149.63 L421.61 149.39 L422.22 149.16 L422.83 148.94 L423.44 148.72 L424.04 148.51 L424.65 148.31 L425.26 148.12 L425.87 147.93 L426.48 147.76 L427.09 147.59 L427.70 147.43 L428.31 147.28 L428.92 147.15 L429.52 147.02 L430.13 146.91 L430.74 146.81 L431.35 146.72 L431.96 146.65 L432.57 146.60 L433.18 146.57 L433.79 146.56 L434.40 146.57 L435.00 146.62 L435.61 146.70 L436.22 146.84 L436.83 147.05 L437.44 147.48 L438.05 146.22 L438.66 145.18 L439.27 144.21 L439.88 143.30 L440.48 142.43 L441.09 141.58 L441.70 140.76 L442.31 139.97 L442.92 139.19 L443.53 138.43 L444.14 137.69 L444.75 136.96 L445.36 136.24 L445.96 135.54 L446.57 134.85 L447.18 134.17 L447.79 133.49 L448.40 132.83 L449.01 132.18 L449.62 131.54 L450.23 130.90 L450.84 130.27 L451.44 129.65 L452.05 129.04 L452.66 128.44 L453.27 127.84 L453.88 127.25 L454.49 126.66 L455.10 126.08 L455.71 125.51 L456.32 124.94 L456.92 124.38 L457.53 123.82 L458.14 123.27 L458.75 122.73 L459.36 122.19 L459.97 121.65 L460.58 121.12 L461.19 120.60 L461.80 120.08 L462.40 119.56 L463.01 119.05 L463.62 118.54 L464.23 118.04 L464.84 117.54 L465.45 117.05 L466.06 116.56 L466.67 116.07 L467.28 115.59 L467.88 115.12 L468.49 114.64 L469.10 114.17 L469.71 113.71 L470.32 113.25 L470.93 112.79 L471.54 112.33 L472.15 111.88 L472.76 111.44 L473.37 110.99 L473.97 110.55 L474.58 110.12 L475.19 109.69 L475.80 109.26 L476.41 108.83 L477.02 108.41 L477.63 107.99 L478.24 107.58 L478.85 107.17 L479.45 106.76 L480.06 106.35 L480.67 105.95 L481.28 105.55 L481.89 105.16 L482.50 104.76 L483.11 104.38 L483.72 103.99 L484.33 103.61 L484.93 103.23 L485.54 102.85 L486.15 102.48 L486.76 102.11 L487.37 101.74 L487.98 101.38 L488.59 101.02 L489.20 100.66 L489.81 100.30 L490.41 99.95 L491.02 99.60 L491.63 99.26 L492.24 98.92 L492.85 98.58 L493.46 98.24 L494.07 97.91 L494.68 97.58 L495.29 97.25 L495.89 96.93 L496.50 96.60 L497.11 96.29 L497.72 95.97 L498.33 95.66 L498.94 95.35 L499.55 95.04 L500.16 94.74 L500.77 94.44 L501.37 94.14 L501.98 93.85 L502.59 93.56 L503.20 93.27 L503.81 92.98 L504.42 92.70 L505.03 92.42 L505.64 92.14 L506.25 91.87 L506.85 91.60 L507.46 91.33 L508.07 91.07 L508.68 90.81 L509.29 90.55 L509.90 90.29 L510.51 90.04 L511.12 89.79 L511.73 89.55 L512.33 89.31 L512.94 89.07 L513.55 88.83 L514.16 88.60 L514.77 88.37 L515.38 88.14 L515.99 87.92 L516.60 87.70 L517.21 87.48 L517.81 87.27 L518.42 87.06 L519.03 86.85 L519.64 86.65 L520.25 86.45 L520.86 86.25 L521.47 86.06 L522.08 85.87 L522.69 85.68 L523.29 85.50 L523.90 85.32 L524.51 85.15 L525.12 84.97 L525.73 84.81 L526.34 84.64 L526.95 84.48 L527.56 84.33 L528.17 84.17 L528.77 84.02 L529.38 83.88 L529.99 83.74 L530.60 83.60 L531.21 83.47 L531.82 83.34 L532.43 83.22 L533.04 83.10 L533.65 82.98 L534.26 82.87 L534.86 82.77 L535.47 82.67 L536.08 82.57 L536.69 82.48 L537.30 82.39 L537.91 82.31 L538.52 82.23 L539.13 82.16 L539.74 82.10 L540.34 82.04 L540.95 81.98 L541.56 81.93 L542.17 81.89 L542.78 81.85 L543.39 81.82 L544.00 81.80 L544.61 81.78 L545.22 81.78 L545.82 81.77 L546.43 81.78 L547.04 81.79 L547.65 81.81 L548.26 81.84 L548.87 81.88 L549.48 81.93 L550.09 81.99 L550.70 82.06 L551.30 82.14 L551.91 82.24 L552.52 82.35 L553.13 82.47 L553.74 82.61 L554.35 82.76 L554.96 82.93 L555.57 83.13 L556.18 83.35 L556.78 83.61 L557.39 83.90 L558.00 84.24 L558.61 84.66 L559.22 85.29 L559.83 84.26 L560.44 83.43 L561.05 82.68 L561.66 81.98 L562.26 81.32 L562.87 80.69 L563.48 80.09 L564.09 79.51 L564.70 78.95 L565.31 78.41 L565.92 77.88 L566.53 77.36 L567.14 76.86 L567.74 76.38 L568.35 75.90 L568.96 75.43 L569.57 74.98 L570.18 74.53 L570.79 74.10 L571.40 73.67 L572.01 73.25 L572.62 72.84 L573.22 72.43 L573.83 72.03 L574.44 71.64 L575.05 71.26 L575.66 70.89 L576.27 70.52 L576.88 70.15 L577.49 69.79 L578.10 69.44 L578.70 69.10 L579.31 68.76 L579.92 68.42 L580.53 68.09 L581.14 67.77 L581.75 67.45 L582.36 67.13 L582.97 66.82 L583.58 66.52 L584.18 66.22 L584.79 65.92 L585.40 65.63 L586.01 65.34 L586.62 65.06 L587.23 64.78 L587.84 64.51 L588.45 64.24 L589.06 63.97 L589.67 63.71 L590.27 63.45 L590.88 63.20 L591.49 62.95 L592.10 62.71 L592.71 62.46 L593.32 62.22 L593.93 61.99 L594.54 61.76 L595.15 61.53 L595.75 61.31 L596.36 61.09 L596.97 60.87 L597.58 60.66 L598.19 60.45 L598.80 60.24 L599.41 60.04 L600.02 59.84 L600.63 59.64 L601.23 59.45 L601.84 59.26 L602.45 59.07 L603.06 58.89 L603.67 58.71 L604.28 58.53 L604.89 58.36 L605.50 58.19 L606.11 58.02 L606.71 57.86 L607.32 57.70 L607.93 57.54 L608.54 57.39 L609.15 57.24 L609.76 57.09 L610.37 56.94 L610.98 56.80 L611.59 56.66 L612.19 56.53 L612.80 56.39 L613.41 56.26 L614.02 56.14 L614.63 56.01 L615.24 55.89 L615.85 55.77 L616.46 55.66 L617.07 55.55 L617.67 55.44 L618.28 55.33 L618.89 55.23 L619.50 55.13 L620.11 55.03 L620.72 54.94 L621.33 54.85 L621.94 54.76 L622.55 54.68 L623.15 54.59 L623.76 54.52 L624.37 54.44 L624.98 54.37 L625.59 54.30 L626.20 54.23 L626.81 54.17 L627.42 54.11 L628.03 54.05 L628.63 53.99 L629.24 53.94 L629.85 53.89 L630.46 53.85 L631.07 53.80 L631.68 53.76 L632.29 53.73 L632.90 53.70 L633.51 53.67 L634.11 53.64 L634.72 53.61 L635.33 53.59 L635.94 53.58 L636.55 53.56 L637.16 53.55 L637.77 53.54 L638.38 53.54 L638.99 53.54 L639.59 53.54 L640.20 53.55 L640.81 53.56 L641.42 53.57 L642.03 53.58 L642.64 53.60 L643.25 53.62 L643.86 53.65 L644.47 53.68 L645.07 53.71 L645.68 53.75 L646.29 53.79 L646.90 53.83 L647.51 53.88 L648.12 53.93 L648.73 53.99 L649.34 54.05 L649.95 54.11 L650.56 54.18 L651.16 54.25 L651.77 54.32 L652.38 54.40 L652.99 54.49 L653.60 54.57 L654.21 54.67 L654.82 54.76 L655.43 54.86 L656.04 54.97 L656.64 55.08 L657.25 55.19 L657.86 55.31 L658.47 55.43 L659.08 55.56 L659.69 55.70 L660.30 55.84 L660.91 55.98 L661.52 56.13 L662.12 56.29 L662.73 56.45 L663.34 56.61 L663.95 56.79 L664.56 56.97 L665.17 57.15 L665.78 57.34 L666.39 57.54 L667.00 57.75 L667.60 57.96 L668.21 58.18 L668.82 58.41 L669.43 58.65 L670.04 58.90 L670.65 59.15 L671.26 59.42 L671.87 59.69 L672.48 59.98 L673.08 60.27 L673.69 60.58 L674.30 60.91 L674.91 61.24 L675.52 61.60 L676.13 61.97 L676.74 62.36 L677.35 62.77 L677.96 63.21 L678.56 63.68 L679.17 64.18 L679.78 64.74 L680.39 65.38 L681.00 66.23" stroke="#7E2F8E" stroke-width="2.60" stroke-dasharray="5.6 7.2 2.5 7.2"/>
</g>
<circle cx="158.44" cy="361.96" r="2.75" fill="#fff" stroke="#A2142F" stroke-width="1.35"/>
<circle cx="312.98" cy="145.57" r="2.75" fill="#fff" stroke="#A2142F" stroke-width="1.35"/>
<rect x="72.10" y="6.70" width="608.90" height="538.90" fill="none" stroke="#4a4a4a" stroke-width="1.3"/>
<text x="72.10" y="564.6" font-size="17.6" text-anchor="middle" textLength="9.1" lengthAdjust="spacingAndGlyphs">0</text>
<text x="132.99" y="564.6" font-size="17.6" text-anchor="middle" textLength="23.1" lengthAdjust="spacingAndGlyphs">0.5</text>
<text x="193.88" y="564.6" font-size="17.6" text-anchor="middle" textLength="9.1" lengthAdjust="spacingAndGlyphs">1</text>
<text x="254.77" y="564.6" font-size="17.6" text-anchor="middle" textLength="23.1" lengthAdjust="spacingAndGlyphs">1.5</text>
<text x="315.66" y="564.6" font-size="17.6" text-anchor="middle" textLength="9.1" lengthAdjust="spacingAndGlyphs">2</text>
<text x="376.55" y="564.6" font-size="17.6" text-anchor="middle" textLength="23.1" lengthAdjust="spacingAndGlyphs">2.5</text>
<text x="437.44" y="564.6" font-size="17.6" text-anchor="middle" textLength="9.1" lengthAdjust="spacingAndGlyphs">3</text>
<text x="498.33" y="564.6" font-size="17.6" text-anchor="middle" textLength="23.1" lengthAdjust="spacingAndGlyphs">3.5</text>
<text x="559.22" y="564.6" font-size="17.6" text-anchor="middle" textLength="9.1" lengthAdjust="spacingAndGlyphs">4</text>
<text x="620.11" y="564.6" font-size="17.6" text-anchor="middle" textLength="23.1" lengthAdjust="spacingAndGlyphs">4.5</text>
<text x="681.00" y="564.6" font-size="17.6" text-anchor="middle" textLength="9.1" lengthAdjust="spacingAndGlyphs">5</text>
<text x="56.30" y="551.60" font-size="17.6" textLength="8.6" lengthAdjust="spacingAndGlyphs">0</text>
<text x="56.30" y="510.15" font-size="17.6" textLength="8.6" lengthAdjust="spacingAndGlyphs">2</text>
<text x="56.30" y="468.69" font-size="17.6" textLength="8.6" lengthAdjust="spacingAndGlyphs">4</text>
<text x="56.30" y="427.24" font-size="17.6" textLength="8.6" lengthAdjust="spacingAndGlyphs">6</text>
<text x="56.30" y="385.78" font-size="17.6" textLength="8.6" lengthAdjust="spacingAndGlyphs">8</text>
<text x="47.30" y="344.33" font-size="17.6" textLength="17.6" lengthAdjust="spacingAndGlyphs">10</text>
<text x="47.30" y="302.88" font-size="17.6" textLength="17.6" lengthAdjust="spacingAndGlyphs">12</text>
<text x="47.30" y="261.42" font-size="17.6" textLength="17.6" lengthAdjust="spacingAndGlyphs">14</text>
<text x="47.30" y="219.97" font-size="17.6" textLength="17.6" lengthAdjust="spacingAndGlyphs">16</text>
<text x="47.30" y="178.52" font-size="17.6" textLength="17.6" lengthAdjust="spacingAndGlyphs">18</text>
<text x="47.30" y="137.06" font-size="17.6" textLength="17.6" lengthAdjust="spacingAndGlyphs">20</text>
<text x="47.30" y="95.61" font-size="17.6" textLength="17.6" lengthAdjust="spacingAndGlyphs">22</text>
<text x="47.30" y="54.15" font-size="17.6" textLength="17.6" lengthAdjust="spacingAndGlyphs">24</text>
<text x="47.30" y="12.70" font-size="17.6" textLength="17.6" lengthAdjust="spacingAndGlyphs">26</text>
<text x="293" y="588.8" font-size="17.6" style="stroke-width:0.1px" textLength="166" lengthAdjust="spacingAndGlyphs">Normalized radius <tspan class="i">ρ</tspan></text>
<g transform="translate(21.8,337) rotate(-90)">
<text x="3.7" y="-6.4" font-size="12.8" text-anchor="middle">1</text>
<path d="M0.2 -4.8 H7.2" stroke="#000" stroke-width="0.8"/>
<text x="3.7" y="6.9" font-size="13.5" text-anchor="middle" class="i">ℓ</text>
<text x="13" y="0" font-size="17.6" textLength="21.5" lengthAdjust="spacingAndGlyphs">log</text>
<text x="37.6" y="5.3" font-size="13" class="i">q</text>
<path d="M52.3 -22 V12.2 M120.5 -22 V12.2" stroke="#000" stroke-width="1.1"/>
<text transform="translate(53.2,1.0) scale(1.22,1)" x="0" y="0" font-size="19.5" style="font-family:'DejaVu Math TeX Gyre','Liberation Serif',serif">𝒮</text>
<text x="70.2" y="5.8" font-size="13" class="i" textLength="12" lengthAdjust="spacingAndGlyphs">ρℓ</text>
<text x="73.1" y="-8.3" font-size="13" class="i" textLength="41" lengthAdjust="spacingAndGlyphs">m,η,ℓ,q</text>
</g>
<rect x="412.60" y="302.00" width="249.70" height="227.00" fill="#fff" stroke="#1a1a1a" stroke-width="0.95"/>
<path d="M419.3 318.00 H451.4" stroke="#4DBEEE" stroke-width="1.70" fill="none" stroke-dasharray="5.4 1.8 1.6 1.8"/>
<text x="457.90" y="322.90" font-size="17.5" textLength="3.3" lengthAdjust="spacingAndGlyphs">[</text>
<text x="461.70" y="322.90" font-size="17.5" class="b" textLength="8.0" lengthAdjust="spacingAndGlyphs">6</text>
<text x="471.20" y="322.90" font-size="17.5" textLength="2.4" lengthAdjust="spacingAndGlyphs">,</text>
<text x="482.00" y="322.90" font-size="17.5" textLength="65.0" lengthAdjust="spacingAndGlyphs">Theorem</text>
<text x="553.10" y="322.90" font-size="17.5" textLength="7.7" lengthAdjust="spacingAndGlyphs">5</text>
<text x="562.60" y="322.90" font-size="17.5" textLength="7.6" lengthAdjust="spacingAndGlyphs">],</text>
<text x="577.00" y="322.90" font-size="17.5" textLength="17.5" lengthAdjust="spacingAndGlyphs">cf.</text>
<text x="602.30" y="322.90" font-size="17.5" textLength="4.4" lengthAdjust="spacingAndGlyphs">(</text>
<text x="608.30" y="322.90" font-size="17.5" class="b" textLength="15.3" lengthAdjust="spacingAndGlyphs">15</text>
<text x="625.20" y="322.90" font-size="17.5" textLength="4.4" lengthAdjust="spacingAndGlyphs">)</text>
<path d="M419.3 339.70 H451.4" stroke="#A2142F" stroke-width="2.00" fill="none" stroke-dasharray="5.4 3.6 2 3.6 2 3.6"/>
<text x="457.50" y="344.60" font-size="17.5" textLength="65.6" lengthAdjust="spacingAndGlyphs">Theorem</text>
<text x="530.10" y="344.60" font-size="17.5" class="b" textLength="16.3" lengthAdjust="spacingAndGlyphs">14</text>
<path d="M419.3 361.40 H451.4" stroke="#A2142F" stroke-width="2.10" fill="none" stroke-dasharray="5.4 3.65"/>
<text x="457.50" y="366.30" font-size="17.5" textLength="65.6" lengthAdjust="spacingAndGlyphs">Theorem</text>
<text x="530.10" y="366.30" font-size="17.5" class="b" textLength="16.3" lengthAdjust="spacingAndGlyphs">16</text>
<text x="552.50" y="366.30" font-size="17.5" textLength="38.9" lengthAdjust="spacingAndGlyphs">using</text>
<text x="597.80" y="366.30" font-size="15.3" style="font-family:'DejaVu Serif','Liberation Serif',serif;font-style:italic;stroke-width:0.1px">κ</text>
<text x="608.80" y="368.00" font-size="13.2" class="i" style="stroke-width:0.08px" textLength="35.6" lengthAdjust="spacingAndGlyphs">q,m,η</text>
<path d="M419.3 383.10 H451.4" stroke="#A2142F" stroke-width="2.00" fill="none" stroke-dasharray="2.1 3.7"/>
<text x="457.50" y="388.00" font-size="17.5" textLength="65.6" lengthAdjust="spacingAndGlyphs">Theorem</text>
<text x="530.10" y="388.00" font-size="17.5" class="b" textLength="16.3" lengthAdjust="spacingAndGlyphs">16</text>
<text x="552.50" y="388.00" font-size="17.5" textLength="38.9" lengthAdjust="spacingAndGlyphs">using</text>
<text x="597.60" y="388.00" font-size="15.3" style="font-family:'DejaVu Serif','Liberation Serif',serif;font-style:italic;stroke-width:0.1px">γ</text>
<text x="605.90" y="389.70" font-size="13.2" class="i" style="stroke-width:0.08px" textLength="6.3" lengthAdjust="spacingAndGlyphs">q</text>
<path d="M419.3 404.80 H451.4" stroke="#FF0000" stroke-width="2.90" fill="none" stroke-dasharray="2.9 7.25"/>
<text x="457.50" y="409.70" font-size="17.5" textLength="65.6" lengthAdjust="spacingAndGlyphs">Theorem</text>
<text x="530.10" y="409.70" font-size="17.5" class="b" textLength="7.8" lengthAdjust="spacingAndGlyphs">8</text>
<path d="M419.3 426.50 H451.4" stroke="#EDB120" stroke-width="2.20" fill="none"/>
<text x="457.50" y="431.40" font-size="17.5" textLength="40.4" lengthAdjust="spacingAndGlyphs">Exact</text>
<text x="505.60" y="431.40" font-size="17.5" textLength="38.9" lengthAdjust="spacingAndGlyphs">value</text>
<path d="M419.3 448.20 H451.4" stroke="#0072BD" stroke-width="2.80" fill="none" stroke-dasharray="5.6 10.9"/>
<text x="457.50" y="453.10" font-size="17.5" textLength="65.6" lengthAdjust="spacingAndGlyphs">Theorem</text>
<text x="530.10" y="453.10" font-size="17.5" class="b" textLength="16.3" lengthAdjust="spacingAndGlyphs">10</text>
<text x="552.50" y="453.10" font-size="17.5" textLength="31.3" lengthAdjust="spacingAndGlyphs">with</text>
<text x="591.40" y="453.10" font-size="15.3" style="font-family:'DejaVu Serif','Liberation Serif',serif;font-style:italic;stroke-width:0.1px">ε</text>
<text x="604.30" y="453.10" font-size="17.5" textLength="12.6" lengthAdjust="spacingAndGlyphs">=</text>
<text x="622.10" y="453.10" font-size="17.5" textLength="29.1" lengthAdjust="spacingAndGlyphs">0.01</text>
<path d="M419.3 469.90 H451.4" stroke="#77AC30" stroke-width="1.20" fill="none"/>
<text x="457.50" y="474.80" font-size="17.5" textLength="65.6" lengthAdjust="spacingAndGlyphs">Theorem</text>
<text x="530.10" y="474.80" font-size="17.5" class="b" textLength="16.3" lengthAdjust="spacingAndGlyphs">19</text>
<path d="M419.3 491.60 H451.4" stroke="#77AC30" stroke-width="2.10" fill="none" stroke-dasharray="2 1.8"/>
<text x="457.50" y="496.50" font-size="17.5" textLength="65.6" lengthAdjust="spacingAndGlyphs">Theorem</text>
<text x="530.10" y="496.50" font-size="17.5" class="b" textLength="16.3" lengthAdjust="spacingAndGlyphs">18</text>
<path d="M419.3 513.30 H451.4" stroke="#7E2F8E" stroke-width="2.80" fill="none" stroke-dasharray="5.6 7.2 2.5 7.2"/>
<text x="457.90" y="518.20" font-size="17.5" textLength="3.3" lengthAdjust="spacingAndGlyphs">[</text>
<text x="461.70" y="518.20" font-size="17.5" class="b" textLength="16.3" lengthAdjust="spacingAndGlyphs">10</text>
<text x="479.50" y="518.20" font-size="17.5" textLength="2.4" lengthAdjust="spacingAndGlyphs">,</text>
<text x="489.30" y="518.20" font-size="17.5" textLength="53.1" lengthAdjust="spacingAndGlyphs">Lemma</text>
<text x="550.20" y="518.20" font-size="17.5" textLength="8.8" lengthAdjust="spacingAndGlyphs">2</text>
<text x="560.30" y="518.20" font-size="17.5" textLength="7.6" lengthAdjust="spacingAndGlyphs">],</text>
<text x="574.00" y="518.20" font-size="17.5" textLength="17.4" lengthAdjust="spacingAndGlyphs">cf.</text>
<text x="599.30" y="518.20" font-size="17.5" textLength="4.4" lengthAdjust="spacingAndGlyphs">(</text>
<text x="605.20" y="518.20" font-size="17.5" class="b" textLength="16.9" lengthAdjust="spacingAndGlyphs">14</text>
<text x="623.20" y="518.20" font-size="17.5" textLength="4.3" lengthAdjust="spacingAndGlyphs">)</text>
</svg></body></html>
